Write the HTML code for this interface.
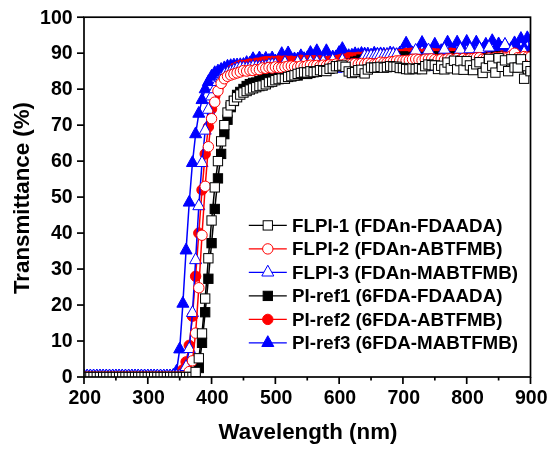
<!DOCTYPE html>
<html><head><meta charset="utf-8"><title>Transmittance</title>
<style>html,body{margin:0;padding:0;background:#fff;width:550px;height:452px;overflow:hidden}svg{display:block}</style>
</head><body>
<svg width="550" height="452" viewBox="0 0 550 452">
<defs><clipPath id="pc"><rect x="84.0" y="17.2" width="446.5" height="359.8"/></clipPath></defs>
<rect width="550" height="452" fill="#fff"/>
<g clip-path="url(#pc)">
<g><polyline points="84.00,376.28 87.19,376.28 90.38,376.28 93.57,376.28 96.76,376.28 99.95,376.28 103.14,376.28 106.33,376.28 109.51,376.28 112.70,376.28 115.89,376.28 119.08,376.28 122.27,376.28 125.46,376.28 128.65,376.28 131.84,376.28 135.03,376.28 138.22,376.28 141.41,376.28 144.60,376.28 147.79,376.28 150.97,376.28 154.16,376.28 157.35,376.28 160.54,376.28 163.73,376.28 166.92,376.28 170.11,376.28 173.30,375.56 176.49,371.60 179.68,349.30 182.87,303.60 186.06,250.35 189.25,202.50 192.44,162.92 195.62,134.13 198.81,113.63 202.00,99.95 205.19,89.16 208.38,81.96 211.57,76.57 214.76,72.97 217.95,71.35 221.14,69.73 224.33,68.11 227.52,66.49 230.71,65.92 233.90,65.35 237.09,65.23 240.28,65.00 243.46,64.73 246.65,62.84 249.84,63.38 253.03,58.94 256.22,61.83 259.41,58.22 262.60,61.18 265.79,58.58 268.98,60.66 272.17,58.22 275.36,61.23 278.55,60.42 281.74,53.90 284.93,60.13 288.11,53.18 291.30,59.58 294.49,59.16 297.68,59.34 300.87,56.06 304.06,58.89 307.25,58.07 310.44,52.82 313.63,59.43 316.82,51.02 320.01,58.58 323.20,58.94 326.39,51.02 329.57,58.26 332.76,57.24 335.95,57.15 339.14,52.82 342.33,48.86 345.52,55.70 348.71,55.93 351.90,55.48 355.09,54.05 358.28,54.98 361.47,53.74 364.66,54.32 367.85,54.33 371.04,55.35 374.23,53.47 377.41,54.47 380.60,54.12 383.79,54.41 386.98,54.70 390.17,53.18 393.36,53.82 396.55,54.97 399.74,53.29 402.93,53.55 406.12,43.47 409.31,52.12 412.50,53.15 415.69,51.85 418.88,52.35 422.06,42.75 425.25,51.47 428.44,51.87 431.63,51.09 434.82,44.54 438.01,52.73 441.20,50.90 444.39,51.29 447.58,42.39 450.77,50.94 453.96,50.83 457.15,42.39 460.34,50.47 463.52,51.52 466.71,41.67 469.90,51.28 473.09,51.05 476.28,42.39 479.47,48.80 482.66,49.45 485.85,44.54 489.04,48.71 492.23,40.95 495.42,49.83 498.61,44.19 501.80,48.25 504.99,44.90 508.18,50.22 511.36,48.48 514.55,43.11 517.74,48.38 520.93,38.79 524.12,48.17 527.31,38.07 530.50,48.74" fill="none" stroke="#0000ff" stroke-width="1.5"/><polygon points="84.00,369.08 78.00,379.88 90.00,379.88" fill="#0000ff" stroke="#0000ff" stroke-width="1.0"/><polygon points="87.19,369.08 81.19,379.88 93.19,379.88" fill="#0000ff" stroke="#0000ff" stroke-width="1.0"/><polygon points="90.38,369.08 84.38,379.88 96.38,379.88" fill="#0000ff" stroke="#0000ff" stroke-width="1.0"/><polygon points="93.57,369.08 87.57,379.88 99.57,379.88" fill="#0000ff" stroke="#0000ff" stroke-width="1.0"/><polygon points="96.76,369.08 90.76,379.88 102.76,379.88" fill="#0000ff" stroke="#0000ff" stroke-width="1.0"/><polygon points="99.95,369.08 93.95,379.88 105.95,379.88" fill="#0000ff" stroke="#0000ff" stroke-width="1.0"/><polygon points="103.14,369.08 97.14,379.88 109.14,379.88" fill="#0000ff" stroke="#0000ff" stroke-width="1.0"/><polygon points="106.33,369.08 100.33,379.88 112.33,379.88" fill="#0000ff" stroke="#0000ff" stroke-width="1.0"/><polygon points="109.51,369.08 103.51,379.88 115.51,379.88" fill="#0000ff" stroke="#0000ff" stroke-width="1.0"/><polygon points="112.70,369.08 106.70,379.88 118.70,379.88" fill="#0000ff" stroke="#0000ff" stroke-width="1.0"/><polygon points="115.89,369.08 109.89,379.88 121.89,379.88" fill="#0000ff" stroke="#0000ff" stroke-width="1.0"/><polygon points="119.08,369.08 113.08,379.88 125.08,379.88" fill="#0000ff" stroke="#0000ff" stroke-width="1.0"/><polygon points="122.27,369.08 116.27,379.88 128.27,379.88" fill="#0000ff" stroke="#0000ff" stroke-width="1.0"/><polygon points="125.46,369.08 119.46,379.88 131.46,379.88" fill="#0000ff" stroke="#0000ff" stroke-width="1.0"/><polygon points="128.65,369.08 122.65,379.88 134.65,379.88" fill="#0000ff" stroke="#0000ff" stroke-width="1.0"/><polygon points="131.84,369.08 125.84,379.88 137.84,379.88" fill="#0000ff" stroke="#0000ff" stroke-width="1.0"/><polygon points="135.03,369.08 129.03,379.88 141.03,379.88" fill="#0000ff" stroke="#0000ff" stroke-width="1.0"/><polygon points="138.22,369.08 132.22,379.88 144.22,379.88" fill="#0000ff" stroke="#0000ff" stroke-width="1.0"/><polygon points="141.41,369.08 135.41,379.88 147.41,379.88" fill="#0000ff" stroke="#0000ff" stroke-width="1.0"/><polygon points="144.60,369.08 138.60,379.88 150.60,379.88" fill="#0000ff" stroke="#0000ff" stroke-width="1.0"/><polygon points="147.79,369.08 141.79,379.88 153.79,379.88" fill="#0000ff" stroke="#0000ff" stroke-width="1.0"/><polygon points="150.97,369.08 144.97,379.88 156.97,379.88" fill="#0000ff" stroke="#0000ff" stroke-width="1.0"/><polygon points="154.16,369.08 148.16,379.88 160.16,379.88" fill="#0000ff" stroke="#0000ff" stroke-width="1.0"/><polygon points="157.35,369.08 151.35,379.88 163.35,379.88" fill="#0000ff" stroke="#0000ff" stroke-width="1.0"/><polygon points="160.54,369.08 154.54,379.88 166.54,379.88" fill="#0000ff" stroke="#0000ff" stroke-width="1.0"/><polygon points="163.73,369.08 157.73,379.88 169.73,379.88" fill="#0000ff" stroke="#0000ff" stroke-width="1.0"/><polygon points="166.92,369.08 160.92,379.88 172.92,379.88" fill="#0000ff" stroke="#0000ff" stroke-width="1.0"/><polygon points="170.11,369.08 164.11,379.88 176.11,379.88" fill="#0000ff" stroke="#0000ff" stroke-width="1.0"/><polygon points="173.30,368.36 167.30,379.16 179.30,379.16" fill="#0000ff" stroke="#0000ff" stroke-width="1.0"/><polygon points="176.49,364.40 170.49,375.20 182.49,375.20" fill="#0000ff" stroke="#0000ff" stroke-width="1.0"/><polygon points="179.68,342.10 173.68,352.90 185.68,352.90" fill="#0000ff" stroke="#0000ff" stroke-width="1.0"/><polygon points="182.87,296.40 176.87,307.20 188.87,307.20" fill="#0000ff" stroke="#0000ff" stroke-width="1.0"/><polygon points="186.06,243.15 180.06,253.95 192.06,253.95" fill="#0000ff" stroke="#0000ff" stroke-width="1.0"/><polygon points="189.25,195.30 183.25,206.10 195.25,206.10" fill="#0000ff" stroke="#0000ff" stroke-width="1.0"/><polygon points="192.44,155.72 186.44,166.52 198.44,166.52" fill="#0000ff" stroke="#0000ff" stroke-width="1.0"/><polygon points="195.62,126.93 189.62,137.73 201.62,137.73" fill="#0000ff" stroke="#0000ff" stroke-width="1.0"/><polygon points="198.81,106.43 192.81,117.23 204.81,117.23" fill="#0000ff" stroke="#0000ff" stroke-width="1.0"/><polygon points="202.00,92.75 196.00,103.55 208.00,103.55" fill="#0000ff" stroke="#0000ff" stroke-width="1.0"/><polygon points="205.19,81.96 199.19,92.76 211.19,92.76" fill="#0000ff" stroke="#0000ff" stroke-width="1.0"/><polygon points="208.38,74.76 202.38,85.56 214.38,85.56" fill="#0000ff" stroke="#0000ff" stroke-width="1.0"/><polygon points="211.57,69.37 205.57,80.17 217.57,80.17" fill="#0000ff" stroke="#0000ff" stroke-width="1.0"/><polygon points="214.76,65.77 208.76,76.57 220.76,76.57" fill="#0000ff" stroke="#0000ff" stroke-width="1.0"/><polygon points="217.95,64.15 211.95,74.95 223.95,74.95" fill="#0000ff" stroke="#0000ff" stroke-width="1.0"/><polygon points="221.14,62.53 215.14,73.33 227.14,73.33" fill="#0000ff" stroke="#0000ff" stroke-width="1.0"/><polygon points="224.33,60.91 218.33,71.71 230.33,71.71" fill="#0000ff" stroke="#0000ff" stroke-width="1.0"/><polygon points="227.52,59.29 221.52,70.09 233.52,70.09" fill="#0000ff" stroke="#0000ff" stroke-width="1.0"/><polygon points="230.71,58.72 224.71,69.52 236.71,69.52" fill="#0000ff" stroke="#0000ff" stroke-width="1.0"/><polygon points="233.90,58.15 227.90,68.95 239.90,68.95" fill="#0000ff" stroke="#0000ff" stroke-width="1.0"/><polygon points="237.09,58.03 231.09,68.83 243.09,68.83" fill="#0000ff" stroke="#0000ff" stroke-width="1.0"/><polygon points="240.28,57.80 234.28,68.60 246.28,68.60" fill="#0000ff" stroke="#0000ff" stroke-width="1.0"/><polygon points="243.46,57.53 237.46,68.33 249.46,68.33" fill="#0000ff" stroke="#0000ff" stroke-width="1.0"/><polygon points="246.65,55.64 240.65,66.44 252.65,66.44" fill="#0000ff" stroke="#0000ff" stroke-width="1.0"/><polygon points="249.84,56.18 243.84,66.98 255.84,66.98" fill="#0000ff" stroke="#0000ff" stroke-width="1.0"/><polygon points="253.03,51.74 247.03,62.54 259.03,62.54" fill="#0000ff" stroke="#0000ff" stroke-width="1.0"/><polygon points="256.22,54.63 250.22,65.43 262.22,65.43" fill="#0000ff" stroke="#0000ff" stroke-width="1.0"/><polygon points="259.41,51.02 253.41,61.82 265.41,61.82" fill="#0000ff" stroke="#0000ff" stroke-width="1.0"/><polygon points="262.60,53.98 256.60,64.78 268.60,64.78" fill="#0000ff" stroke="#0000ff" stroke-width="1.0"/><polygon points="265.79,51.38 259.79,62.18 271.79,62.18" fill="#0000ff" stroke="#0000ff" stroke-width="1.0"/><polygon points="268.98,53.46 262.98,64.26 274.98,64.26" fill="#0000ff" stroke="#0000ff" stroke-width="1.0"/><polygon points="272.17,51.02 266.17,61.82 278.17,61.82" fill="#0000ff" stroke="#0000ff" stroke-width="1.0"/><polygon points="275.36,54.03 269.36,64.83 281.36,64.83" fill="#0000ff" stroke="#0000ff" stroke-width="1.0"/><polygon points="278.55,53.22 272.55,64.02 284.55,64.02" fill="#0000ff" stroke="#0000ff" stroke-width="1.0"/><polygon points="281.74,46.70 275.74,57.50 287.74,57.50" fill="#0000ff" stroke="#0000ff" stroke-width="1.0"/><polygon points="284.93,52.93 278.93,63.73 290.93,63.73" fill="#0000ff" stroke="#0000ff" stroke-width="1.0"/><polygon points="288.11,45.98 282.11,56.78 294.11,56.78" fill="#0000ff" stroke="#0000ff" stroke-width="1.0"/><polygon points="291.30,52.38 285.30,63.18 297.30,63.18" fill="#0000ff" stroke="#0000ff" stroke-width="1.0"/><polygon points="294.49,51.96 288.49,62.76 300.49,62.76" fill="#0000ff" stroke="#0000ff" stroke-width="1.0"/><polygon points="297.68,52.14 291.68,62.94 303.68,62.94" fill="#0000ff" stroke="#0000ff" stroke-width="1.0"/><polygon points="300.87,48.86 294.87,59.66 306.87,59.66" fill="#0000ff" stroke="#0000ff" stroke-width="1.0"/><polygon points="304.06,51.69 298.06,62.49 310.06,62.49" fill="#0000ff" stroke="#0000ff" stroke-width="1.0"/><polygon points="307.25,50.87 301.25,61.67 313.25,61.67" fill="#0000ff" stroke="#0000ff" stroke-width="1.0"/><polygon points="310.44,45.62 304.44,56.42 316.44,56.42" fill="#0000ff" stroke="#0000ff" stroke-width="1.0"/><polygon points="313.63,52.23 307.63,63.03 319.63,63.03" fill="#0000ff" stroke="#0000ff" stroke-width="1.0"/><polygon points="316.82,43.82 310.82,54.62 322.82,54.62" fill="#0000ff" stroke="#0000ff" stroke-width="1.0"/><polygon points="320.01,51.38 314.01,62.18 326.01,62.18" fill="#0000ff" stroke="#0000ff" stroke-width="1.0"/><polygon points="323.20,51.74 317.20,62.54 329.20,62.54" fill="#0000ff" stroke="#0000ff" stroke-width="1.0"/><polygon points="326.39,43.82 320.39,54.62 332.39,54.62" fill="#0000ff" stroke="#0000ff" stroke-width="1.0"/><polygon points="329.57,51.06 323.57,61.86 335.57,61.86" fill="#0000ff" stroke="#0000ff" stroke-width="1.0"/><polygon points="332.76,50.04 326.76,60.84 338.76,60.84" fill="#0000ff" stroke="#0000ff" stroke-width="1.0"/><polygon points="335.95,49.95 329.95,60.75 341.95,60.75" fill="#0000ff" stroke="#0000ff" stroke-width="1.0"/><polygon points="339.14,45.62 333.14,56.42 345.14,56.42" fill="#0000ff" stroke="#0000ff" stroke-width="1.0"/><polygon points="342.33,41.66 336.33,52.46 348.33,52.46" fill="#0000ff" stroke="#0000ff" stroke-width="1.0"/><polygon points="345.52,48.50 339.52,59.30 351.52,59.30" fill="#0000ff" stroke="#0000ff" stroke-width="1.0"/><polygon points="348.71,48.73 342.71,59.53 354.71,59.53" fill="#0000ff" stroke="#0000ff" stroke-width="1.0"/><polygon points="351.90,48.28 345.90,59.08 357.90,59.08" fill="#0000ff" stroke="#0000ff" stroke-width="1.0"/><polygon points="355.09,46.85 349.09,57.65 361.09,57.65" fill="#0000ff" stroke="#0000ff" stroke-width="1.0"/><polygon points="358.28,47.78 352.28,58.58 364.28,58.58" fill="#0000ff" stroke="#0000ff" stroke-width="1.0"/><polygon points="361.47,46.54 355.47,57.34 367.47,57.34" fill="#0000ff" stroke="#0000ff" stroke-width="1.0"/><polygon points="364.66,47.12 358.66,57.92 370.66,57.92" fill="#0000ff" stroke="#0000ff" stroke-width="1.0"/><polygon points="367.85,47.13 361.85,57.93 373.85,57.93" fill="#0000ff" stroke="#0000ff" stroke-width="1.0"/><polygon points="371.04,48.15 365.04,58.95 377.04,58.95" fill="#0000ff" stroke="#0000ff" stroke-width="1.0"/><polygon points="374.23,46.27 368.23,57.07 380.23,57.07" fill="#0000ff" stroke="#0000ff" stroke-width="1.0"/><polygon points="377.41,47.27 371.41,58.07 383.41,58.07" fill="#0000ff" stroke="#0000ff" stroke-width="1.0"/><polygon points="380.60,46.92 374.60,57.72 386.60,57.72" fill="#0000ff" stroke="#0000ff" stroke-width="1.0"/><polygon points="383.79,47.21 377.79,58.01 389.79,58.01" fill="#0000ff" stroke="#0000ff" stroke-width="1.0"/><polygon points="386.98,47.50 380.98,58.30 392.98,58.30" fill="#0000ff" stroke="#0000ff" stroke-width="1.0"/><polygon points="390.17,45.98 384.17,56.78 396.17,56.78" fill="#0000ff" stroke="#0000ff" stroke-width="1.0"/><polygon points="393.36,46.62 387.36,57.42 399.36,57.42" fill="#0000ff" stroke="#0000ff" stroke-width="1.0"/><polygon points="396.55,47.77 390.55,58.57 402.55,58.57" fill="#0000ff" stroke="#0000ff" stroke-width="1.0"/><polygon points="399.74,46.09 393.74,56.89 405.74,56.89" fill="#0000ff" stroke="#0000ff" stroke-width="1.0"/><polygon points="402.93,46.35 396.93,57.15 408.93,57.15" fill="#0000ff" stroke="#0000ff" stroke-width="1.0"/><polygon points="406.12,36.27 400.12,47.07 412.12,47.07" fill="#0000ff" stroke="#0000ff" stroke-width="1.0"/><polygon points="409.31,44.92 403.31,55.72 415.31,55.72" fill="#0000ff" stroke="#0000ff" stroke-width="1.0"/><polygon points="412.50,45.95 406.50,56.75 418.50,56.75" fill="#0000ff" stroke="#0000ff" stroke-width="1.0"/><polygon points="415.69,44.65 409.69,55.45 421.69,55.45" fill="#0000ff" stroke="#0000ff" stroke-width="1.0"/><polygon points="418.88,45.15 412.88,55.95 424.88,55.95" fill="#0000ff" stroke="#0000ff" stroke-width="1.0"/><polygon points="422.06,35.55 416.06,46.35 428.06,46.35" fill="#0000ff" stroke="#0000ff" stroke-width="1.0"/><polygon points="425.25,44.27 419.25,55.07 431.25,55.07" fill="#0000ff" stroke="#0000ff" stroke-width="1.0"/><polygon points="428.44,44.67 422.44,55.47 434.44,55.47" fill="#0000ff" stroke="#0000ff" stroke-width="1.0"/><polygon points="431.63,43.89 425.63,54.69 437.63,54.69" fill="#0000ff" stroke="#0000ff" stroke-width="1.0"/><polygon points="434.82,37.34 428.82,48.14 440.82,48.14" fill="#0000ff" stroke="#0000ff" stroke-width="1.0"/><polygon points="438.01,45.53 432.01,56.33 444.01,56.33" fill="#0000ff" stroke="#0000ff" stroke-width="1.0"/><polygon points="441.20,43.70 435.20,54.50 447.20,54.50" fill="#0000ff" stroke="#0000ff" stroke-width="1.0"/><polygon points="444.39,44.09 438.39,54.89 450.39,54.89" fill="#0000ff" stroke="#0000ff" stroke-width="1.0"/><polygon points="447.58,35.19 441.58,45.99 453.58,45.99" fill="#0000ff" stroke="#0000ff" stroke-width="1.0"/><polygon points="450.77,43.74 444.77,54.54 456.77,54.54" fill="#0000ff" stroke="#0000ff" stroke-width="1.0"/><polygon points="453.96,43.63 447.96,54.43 459.96,54.43" fill="#0000ff" stroke="#0000ff" stroke-width="1.0"/><polygon points="457.15,35.19 451.15,45.99 463.15,45.99" fill="#0000ff" stroke="#0000ff" stroke-width="1.0"/><polygon points="460.34,43.27 454.34,54.07 466.34,54.07" fill="#0000ff" stroke="#0000ff" stroke-width="1.0"/><polygon points="463.52,44.32 457.52,55.12 469.52,55.12" fill="#0000ff" stroke="#0000ff" stroke-width="1.0"/><polygon points="466.71,34.47 460.71,45.27 472.71,45.27" fill="#0000ff" stroke="#0000ff" stroke-width="1.0"/><polygon points="469.90,44.08 463.90,54.88 475.90,54.88" fill="#0000ff" stroke="#0000ff" stroke-width="1.0"/><polygon points="473.09,43.85 467.09,54.65 479.09,54.65" fill="#0000ff" stroke="#0000ff" stroke-width="1.0"/><polygon points="476.28,35.19 470.28,45.99 482.28,45.99" fill="#0000ff" stroke="#0000ff" stroke-width="1.0"/><polygon points="479.47,41.60 473.47,52.40 485.47,52.40" fill="#0000ff" stroke="#0000ff" stroke-width="1.0"/><polygon points="482.66,42.25 476.66,53.05 488.66,53.05" fill="#0000ff" stroke="#0000ff" stroke-width="1.0"/><polygon points="485.85,37.34 479.85,48.14 491.85,48.14" fill="#0000ff" stroke="#0000ff" stroke-width="1.0"/><polygon points="489.04,41.51 483.04,52.31 495.04,52.31" fill="#0000ff" stroke="#0000ff" stroke-width="1.0"/><polygon points="492.23,33.75 486.23,44.55 498.23,44.55" fill="#0000ff" stroke="#0000ff" stroke-width="1.0"/><polygon points="495.42,42.63 489.42,53.43 501.42,53.43" fill="#0000ff" stroke="#0000ff" stroke-width="1.0"/><polygon points="498.61,36.98 492.61,47.79 504.61,47.79" fill="#0000ff" stroke="#0000ff" stroke-width="1.0"/><polygon points="501.80,41.05 495.80,51.85 507.80,51.85" fill="#0000ff" stroke="#0000ff" stroke-width="1.0"/><polygon points="504.99,37.70 498.99,48.50 510.99,48.50" fill="#0000ff" stroke="#0000ff" stroke-width="1.0"/><polygon points="508.18,43.02 502.18,53.82 514.17,53.82" fill="#0000ff" stroke="#0000ff" stroke-width="1.0"/><polygon points="511.36,41.28 505.36,52.08 517.36,52.08" fill="#0000ff" stroke="#0000ff" stroke-width="1.0"/><polygon points="514.55,35.91 508.55,46.71 520.55,46.71" fill="#0000ff" stroke="#0000ff" stroke-width="1.0"/><polygon points="517.74,41.18 511.74,51.98 523.74,51.98" fill="#0000ff" stroke="#0000ff" stroke-width="1.0"/><polygon points="520.93,31.59 514.93,42.39 526.93,42.39" fill="#0000ff" stroke="#0000ff" stroke-width="1.0"/><polygon points="524.12,40.97 518.12,51.77 530.12,51.77" fill="#0000ff" stroke="#0000ff" stroke-width="1.0"/><polygon points="527.31,30.87 521.31,41.67 533.31,41.67" fill="#0000ff" stroke="#0000ff" stroke-width="1.0"/><polygon points="530.50,41.54 524.50,52.34 536.50,52.34" fill="#0000ff" stroke="#0000ff" stroke-width="1.0"/></g>
<g><polyline points="84.00,377.00 87.19,377.00 90.38,377.00 93.57,377.00 96.76,377.00 99.95,377.00 103.14,377.00 106.33,377.00 109.51,377.00 112.70,377.00 115.89,377.00 119.08,377.00 122.27,377.00 125.46,377.00 128.65,377.00 131.84,377.00 135.03,377.00 138.22,377.00 141.41,377.00 144.60,377.00 147.79,377.00 150.97,377.00 154.16,377.00 157.35,377.00 160.54,377.00 163.73,377.00 166.92,377.00 170.11,377.00 173.30,377.00 176.49,377.00 179.68,375.56 182.87,369.80 186.06,361.89 189.25,345.34 192.44,316.19 195.62,276.26 198.81,233.08 202.00,189.90 205.19,153.92 208.38,126.94 211.57,108.95 214.76,96.36 217.95,88.08 221.14,83.22 224.33,78.37 227.52,74.62 230.71,70.87 233.90,68.46 237.09,66.94 240.28,65.41 243.46,65.49 246.65,65.05 249.84,64.04 253.03,64.36 256.22,63.26 259.41,63.10 262.60,62.10 265.79,61.69 268.98,61.58 272.17,61.38 275.36,61.74 278.55,61.00 281.74,61.38 284.93,60.96 288.11,61.41 291.30,61.19 294.49,61.88 297.68,61.56 300.87,60.25 304.06,61.58 307.25,60.75 310.44,60.82 313.63,60.69 316.82,61.14 320.01,60.92 323.20,61.87 326.39,61.86 329.57,61.19 332.76,60.82 335.95,60.47 339.14,59.96 342.33,58.93 345.52,59.32 348.71,57.67 351.90,57.89 355.09,57.87 358.28,57.30 361.47,57.83 364.66,56.37 367.85,56.26 371.04,56.19 374.23,56.36 377.41,55.44 380.60,55.35 383.79,55.23 386.98,54.50 390.17,54.74 393.36,54.95 396.55,54.34 399.74,54.72 402.93,54.45 406.12,53.49 409.31,53.39 412.50,53.05 415.69,53.27 418.88,53.82 422.06,54.64 425.25,53.92 428.44,53.13 431.63,53.38 434.82,53.93 438.01,53.98 441.20,54.41 444.39,54.48 447.58,54.67 450.77,53.19 453.96,53.65 457.15,54.54 460.34,54.05 463.52,54.71 466.71,54.42 469.90,53.96 473.09,54.59 476.28,55.38 479.47,56.22 482.66,56.02 485.85,55.96 489.04,56.89 492.23,57.55 495.42,57.57 498.61,57.53 501.80,55.95 504.99,56.70 508.18,56.17 511.36,57.37 514.55,57.21 517.74,56.43 520.93,56.07 524.12,57.06 527.31,57.56 530.50,56.12" fill="none" stroke="#ff0000" stroke-width="1.5"/><circle cx="84.00" cy="377.00" r="5.2" fill="#ff0000" stroke="#ff0000" stroke-width="1.0"/><circle cx="87.19" cy="377.00" r="5.2" fill="#ff0000" stroke="#ff0000" stroke-width="1.0"/><circle cx="90.38" cy="377.00" r="5.2" fill="#ff0000" stroke="#ff0000" stroke-width="1.0"/><circle cx="93.57" cy="377.00" r="5.2" fill="#ff0000" stroke="#ff0000" stroke-width="1.0"/><circle cx="96.76" cy="377.00" r="5.2" fill="#ff0000" stroke="#ff0000" stroke-width="1.0"/><circle cx="99.95" cy="377.00" r="5.2" fill="#ff0000" stroke="#ff0000" stroke-width="1.0"/><circle cx="103.14" cy="377.00" r="5.2" fill="#ff0000" stroke="#ff0000" stroke-width="1.0"/><circle cx="106.33" cy="377.00" r="5.2" fill="#ff0000" stroke="#ff0000" stroke-width="1.0"/><circle cx="109.51" cy="377.00" r="5.2" fill="#ff0000" stroke="#ff0000" stroke-width="1.0"/><circle cx="112.70" cy="377.00" r="5.2" fill="#ff0000" stroke="#ff0000" stroke-width="1.0"/><circle cx="115.89" cy="377.00" r="5.2" fill="#ff0000" stroke="#ff0000" stroke-width="1.0"/><circle cx="119.08" cy="377.00" r="5.2" fill="#ff0000" stroke="#ff0000" stroke-width="1.0"/><circle cx="122.27" cy="377.00" r="5.2" fill="#ff0000" stroke="#ff0000" stroke-width="1.0"/><circle cx="125.46" cy="377.00" r="5.2" fill="#ff0000" stroke="#ff0000" stroke-width="1.0"/><circle cx="128.65" cy="377.00" r="5.2" fill="#ff0000" stroke="#ff0000" stroke-width="1.0"/><circle cx="131.84" cy="377.00" r="5.2" fill="#ff0000" stroke="#ff0000" stroke-width="1.0"/><circle cx="135.03" cy="377.00" r="5.2" fill="#ff0000" stroke="#ff0000" stroke-width="1.0"/><circle cx="138.22" cy="377.00" r="5.2" fill="#ff0000" stroke="#ff0000" stroke-width="1.0"/><circle cx="141.41" cy="377.00" r="5.2" fill="#ff0000" stroke="#ff0000" stroke-width="1.0"/><circle cx="144.60" cy="377.00" r="5.2" fill="#ff0000" stroke="#ff0000" stroke-width="1.0"/><circle cx="147.79" cy="377.00" r="5.2" fill="#ff0000" stroke="#ff0000" stroke-width="1.0"/><circle cx="150.97" cy="377.00" r="5.2" fill="#ff0000" stroke="#ff0000" stroke-width="1.0"/><circle cx="154.16" cy="377.00" r="5.2" fill="#ff0000" stroke="#ff0000" stroke-width="1.0"/><circle cx="157.35" cy="377.00" r="5.2" fill="#ff0000" stroke="#ff0000" stroke-width="1.0"/><circle cx="160.54" cy="377.00" r="5.2" fill="#ff0000" stroke="#ff0000" stroke-width="1.0"/><circle cx="163.73" cy="377.00" r="5.2" fill="#ff0000" stroke="#ff0000" stroke-width="1.0"/><circle cx="166.92" cy="377.00" r="5.2" fill="#ff0000" stroke="#ff0000" stroke-width="1.0"/><circle cx="170.11" cy="377.00" r="5.2" fill="#ff0000" stroke="#ff0000" stroke-width="1.0"/><circle cx="173.30" cy="377.00" r="5.2" fill="#ff0000" stroke="#ff0000" stroke-width="1.0"/><circle cx="176.49" cy="377.00" r="5.2" fill="#ff0000" stroke="#ff0000" stroke-width="1.0"/><circle cx="179.68" cy="375.56" r="5.2" fill="#ff0000" stroke="#ff0000" stroke-width="1.0"/><circle cx="182.87" cy="369.80" r="5.2" fill="#ff0000" stroke="#ff0000" stroke-width="1.0"/><circle cx="186.06" cy="361.89" r="5.2" fill="#ff0000" stroke="#ff0000" stroke-width="1.0"/><circle cx="189.25" cy="345.34" r="5.2" fill="#ff0000" stroke="#ff0000" stroke-width="1.0"/><circle cx="192.44" cy="316.19" r="5.2" fill="#ff0000" stroke="#ff0000" stroke-width="1.0"/><circle cx="195.62" cy="276.26" r="5.2" fill="#ff0000" stroke="#ff0000" stroke-width="1.0"/><circle cx="198.81" cy="233.08" r="5.2" fill="#ff0000" stroke="#ff0000" stroke-width="1.0"/><circle cx="202.00" cy="189.90" r="5.2" fill="#ff0000" stroke="#ff0000" stroke-width="1.0"/><circle cx="205.19" cy="153.92" r="5.2" fill="#ff0000" stroke="#ff0000" stroke-width="1.0"/><circle cx="208.38" cy="126.94" r="5.2" fill="#ff0000" stroke="#ff0000" stroke-width="1.0"/><circle cx="211.57" cy="108.95" r="5.2" fill="#ff0000" stroke="#ff0000" stroke-width="1.0"/><circle cx="214.76" cy="96.36" r="5.2" fill="#ff0000" stroke="#ff0000" stroke-width="1.0"/><circle cx="217.95" cy="88.08" r="5.2" fill="#ff0000" stroke="#ff0000" stroke-width="1.0"/><circle cx="221.14" cy="83.22" r="5.2" fill="#ff0000" stroke="#ff0000" stroke-width="1.0"/><circle cx="224.33" cy="78.37" r="5.2" fill="#ff0000" stroke="#ff0000" stroke-width="1.0"/><circle cx="227.52" cy="74.62" r="5.2" fill="#ff0000" stroke="#ff0000" stroke-width="1.0"/><circle cx="230.71" cy="70.87" r="5.2" fill="#ff0000" stroke="#ff0000" stroke-width="1.0"/><circle cx="233.90" cy="68.46" r="5.2" fill="#ff0000" stroke="#ff0000" stroke-width="1.0"/><circle cx="237.09" cy="66.94" r="5.2" fill="#ff0000" stroke="#ff0000" stroke-width="1.0"/><circle cx="240.28" cy="65.41" r="5.2" fill="#ff0000" stroke="#ff0000" stroke-width="1.0"/><circle cx="243.46" cy="65.49" r="5.2" fill="#ff0000" stroke="#ff0000" stroke-width="1.0"/><circle cx="246.65" cy="65.05" r="5.2" fill="#ff0000" stroke="#ff0000" stroke-width="1.0"/><circle cx="249.84" cy="64.04" r="5.2" fill="#ff0000" stroke="#ff0000" stroke-width="1.0"/><circle cx="253.03" cy="64.36" r="5.2" fill="#ff0000" stroke="#ff0000" stroke-width="1.0"/><circle cx="256.22" cy="63.26" r="5.2" fill="#ff0000" stroke="#ff0000" stroke-width="1.0"/><circle cx="259.41" cy="63.10" r="5.2" fill="#ff0000" stroke="#ff0000" stroke-width="1.0"/><circle cx="262.60" cy="62.10" r="5.2" fill="#ff0000" stroke="#ff0000" stroke-width="1.0"/><circle cx="265.79" cy="61.69" r="5.2" fill="#ff0000" stroke="#ff0000" stroke-width="1.0"/><circle cx="268.98" cy="61.58" r="5.2" fill="#ff0000" stroke="#ff0000" stroke-width="1.0"/><circle cx="272.17" cy="61.38" r="5.2" fill="#ff0000" stroke="#ff0000" stroke-width="1.0"/><circle cx="275.36" cy="61.74" r="5.2" fill="#ff0000" stroke="#ff0000" stroke-width="1.0"/><circle cx="278.55" cy="61.00" r="5.2" fill="#ff0000" stroke="#ff0000" stroke-width="1.0"/><circle cx="281.74" cy="61.38" r="5.2" fill="#ff0000" stroke="#ff0000" stroke-width="1.0"/><circle cx="284.93" cy="60.96" r="5.2" fill="#ff0000" stroke="#ff0000" stroke-width="1.0"/><circle cx="288.11" cy="61.41" r="5.2" fill="#ff0000" stroke="#ff0000" stroke-width="1.0"/><circle cx="291.30" cy="61.19" r="5.2" fill="#ff0000" stroke="#ff0000" stroke-width="1.0"/><circle cx="294.49" cy="61.88" r="5.2" fill="#ff0000" stroke="#ff0000" stroke-width="1.0"/><circle cx="297.68" cy="61.56" r="5.2" fill="#ff0000" stroke="#ff0000" stroke-width="1.0"/><circle cx="300.87" cy="60.25" r="5.2" fill="#ff0000" stroke="#ff0000" stroke-width="1.0"/><circle cx="304.06" cy="61.58" r="5.2" fill="#ff0000" stroke="#ff0000" stroke-width="1.0"/><circle cx="307.25" cy="60.75" r="5.2" fill="#ff0000" stroke="#ff0000" stroke-width="1.0"/><circle cx="310.44" cy="60.82" r="5.2" fill="#ff0000" stroke="#ff0000" stroke-width="1.0"/><circle cx="313.63" cy="60.69" r="5.2" fill="#ff0000" stroke="#ff0000" stroke-width="1.0"/><circle cx="316.82" cy="61.14" r="5.2" fill="#ff0000" stroke="#ff0000" stroke-width="1.0"/><circle cx="320.01" cy="60.92" r="5.2" fill="#ff0000" stroke="#ff0000" stroke-width="1.0"/><circle cx="323.20" cy="61.87" r="5.2" fill="#ff0000" stroke="#ff0000" stroke-width="1.0"/><circle cx="326.39" cy="61.86" r="5.2" fill="#ff0000" stroke="#ff0000" stroke-width="1.0"/><circle cx="329.57" cy="61.19" r="5.2" fill="#ff0000" stroke="#ff0000" stroke-width="1.0"/><circle cx="332.76" cy="60.82" r="5.2" fill="#ff0000" stroke="#ff0000" stroke-width="1.0"/><circle cx="335.95" cy="60.47" r="5.2" fill="#ff0000" stroke="#ff0000" stroke-width="1.0"/><circle cx="339.14" cy="59.96" r="5.2" fill="#ff0000" stroke="#ff0000" stroke-width="1.0"/><circle cx="342.33" cy="58.93" r="5.2" fill="#ff0000" stroke="#ff0000" stroke-width="1.0"/><circle cx="345.52" cy="59.32" r="5.2" fill="#ff0000" stroke="#ff0000" stroke-width="1.0"/><circle cx="348.71" cy="57.67" r="5.2" fill="#ff0000" stroke="#ff0000" stroke-width="1.0"/><circle cx="351.90" cy="57.89" r="5.2" fill="#ff0000" stroke="#ff0000" stroke-width="1.0"/><circle cx="355.09" cy="57.87" r="5.2" fill="#ff0000" stroke="#ff0000" stroke-width="1.0"/><circle cx="358.28" cy="57.30" r="5.2" fill="#ff0000" stroke="#ff0000" stroke-width="1.0"/><circle cx="361.47" cy="57.83" r="5.2" fill="#ff0000" stroke="#ff0000" stroke-width="1.0"/><circle cx="364.66" cy="56.37" r="5.2" fill="#ff0000" stroke="#ff0000" stroke-width="1.0"/><circle cx="367.85" cy="56.26" r="5.2" fill="#ff0000" stroke="#ff0000" stroke-width="1.0"/><circle cx="371.04" cy="56.19" r="5.2" fill="#ff0000" stroke="#ff0000" stroke-width="1.0"/><circle cx="374.23" cy="56.36" r="5.2" fill="#ff0000" stroke="#ff0000" stroke-width="1.0"/><circle cx="377.41" cy="55.44" r="5.2" fill="#ff0000" stroke="#ff0000" stroke-width="1.0"/><circle cx="380.60" cy="55.35" r="5.2" fill="#ff0000" stroke="#ff0000" stroke-width="1.0"/><circle cx="383.79" cy="55.23" r="5.2" fill="#ff0000" stroke="#ff0000" stroke-width="1.0"/><circle cx="386.98" cy="54.50" r="5.2" fill="#ff0000" stroke="#ff0000" stroke-width="1.0"/><circle cx="390.17" cy="54.74" r="5.2" fill="#ff0000" stroke="#ff0000" stroke-width="1.0"/><circle cx="393.36" cy="54.95" r="5.2" fill="#ff0000" stroke="#ff0000" stroke-width="1.0"/><circle cx="396.55" cy="54.34" r="5.2" fill="#ff0000" stroke="#ff0000" stroke-width="1.0"/><circle cx="399.74" cy="54.72" r="5.2" fill="#ff0000" stroke="#ff0000" stroke-width="1.0"/><circle cx="402.93" cy="54.45" r="5.2" fill="#ff0000" stroke="#ff0000" stroke-width="1.0"/><circle cx="406.12" cy="53.49" r="5.2" fill="#ff0000" stroke="#ff0000" stroke-width="1.0"/><circle cx="409.31" cy="53.39" r="5.2" fill="#ff0000" stroke="#ff0000" stroke-width="1.0"/><circle cx="412.50" cy="53.05" r="5.2" fill="#ff0000" stroke="#ff0000" stroke-width="1.0"/><circle cx="415.69" cy="53.27" r="5.2" fill="#ff0000" stroke="#ff0000" stroke-width="1.0"/><circle cx="418.88" cy="53.82" r="5.2" fill="#ff0000" stroke="#ff0000" stroke-width="1.0"/><circle cx="422.06" cy="54.64" r="5.2" fill="#ff0000" stroke="#ff0000" stroke-width="1.0"/><circle cx="425.25" cy="53.92" r="5.2" fill="#ff0000" stroke="#ff0000" stroke-width="1.0"/><circle cx="428.44" cy="53.13" r="5.2" fill="#ff0000" stroke="#ff0000" stroke-width="1.0"/><circle cx="431.63" cy="53.38" r="5.2" fill="#ff0000" stroke="#ff0000" stroke-width="1.0"/><circle cx="434.82" cy="53.93" r="5.2" fill="#ff0000" stroke="#ff0000" stroke-width="1.0"/><circle cx="438.01" cy="53.98" r="5.2" fill="#ff0000" stroke="#ff0000" stroke-width="1.0"/><circle cx="441.20" cy="54.41" r="5.2" fill="#ff0000" stroke="#ff0000" stroke-width="1.0"/><circle cx="444.39" cy="54.48" r="5.2" fill="#ff0000" stroke="#ff0000" stroke-width="1.0"/><circle cx="447.58" cy="54.67" r="5.2" fill="#ff0000" stroke="#ff0000" stroke-width="1.0"/><circle cx="450.77" cy="53.19" r="5.2" fill="#ff0000" stroke="#ff0000" stroke-width="1.0"/><circle cx="453.96" cy="53.65" r="5.2" fill="#ff0000" stroke="#ff0000" stroke-width="1.0"/><circle cx="457.15" cy="54.54" r="5.2" fill="#ff0000" stroke="#ff0000" stroke-width="1.0"/><circle cx="460.34" cy="54.05" r="5.2" fill="#ff0000" stroke="#ff0000" stroke-width="1.0"/><circle cx="463.52" cy="54.71" r="5.2" fill="#ff0000" stroke="#ff0000" stroke-width="1.0"/><circle cx="466.71" cy="54.42" r="5.2" fill="#ff0000" stroke="#ff0000" stroke-width="1.0"/><circle cx="469.90" cy="53.96" r="5.2" fill="#ff0000" stroke="#ff0000" stroke-width="1.0"/><circle cx="473.09" cy="54.59" r="5.2" fill="#ff0000" stroke="#ff0000" stroke-width="1.0"/><circle cx="476.28" cy="55.38" r="5.2" fill="#ff0000" stroke="#ff0000" stroke-width="1.0"/><circle cx="479.47" cy="56.22" r="5.2" fill="#ff0000" stroke="#ff0000" stroke-width="1.0"/><circle cx="482.66" cy="56.02" r="5.2" fill="#ff0000" stroke="#ff0000" stroke-width="1.0"/><circle cx="485.85" cy="55.96" r="5.2" fill="#ff0000" stroke="#ff0000" stroke-width="1.0"/><circle cx="489.04" cy="56.89" r="5.2" fill="#ff0000" stroke="#ff0000" stroke-width="1.0"/><circle cx="492.23" cy="57.55" r="5.2" fill="#ff0000" stroke="#ff0000" stroke-width="1.0"/><circle cx="495.42" cy="57.57" r="5.2" fill="#ff0000" stroke="#ff0000" stroke-width="1.0"/><circle cx="498.61" cy="57.53" r="5.2" fill="#ff0000" stroke="#ff0000" stroke-width="1.0"/><circle cx="501.80" cy="55.95" r="5.2" fill="#ff0000" stroke="#ff0000" stroke-width="1.0"/><circle cx="504.99" cy="56.70" r="5.2" fill="#ff0000" stroke="#ff0000" stroke-width="1.0"/><circle cx="508.18" cy="56.17" r="5.2" fill="#ff0000" stroke="#ff0000" stroke-width="1.0"/><circle cx="511.36" cy="57.37" r="5.2" fill="#ff0000" stroke="#ff0000" stroke-width="1.0"/><circle cx="514.55" cy="57.21" r="5.2" fill="#ff0000" stroke="#ff0000" stroke-width="1.0"/><circle cx="517.74" cy="56.43" r="5.2" fill="#ff0000" stroke="#ff0000" stroke-width="1.0"/><circle cx="520.93" cy="56.07" r="5.2" fill="#ff0000" stroke="#ff0000" stroke-width="1.0"/><circle cx="524.12" cy="57.06" r="5.2" fill="#ff0000" stroke="#ff0000" stroke-width="1.0"/><circle cx="527.31" cy="57.56" r="5.2" fill="#ff0000" stroke="#ff0000" stroke-width="1.0"/><circle cx="530.50" cy="56.12" r="5.2" fill="#ff0000" stroke="#ff0000" stroke-width="1.0"/></g>
<g><polyline points="84.00,376.64 87.19,376.64 90.38,376.64 93.57,376.64 96.76,376.64 99.95,376.64 103.14,376.64 106.33,376.64 109.51,376.64 112.70,376.64 115.89,376.64 119.08,376.64 122.27,376.64 125.46,376.64 128.65,376.64 131.84,376.64 135.03,376.64 138.22,376.64 141.41,376.64 144.60,376.64 147.79,376.64 150.97,376.64 154.16,376.64 157.35,376.64 160.54,376.64 163.73,376.64 166.92,376.64 170.11,376.64 173.30,376.64 176.49,376.64 179.68,376.64 182.87,376.64 186.06,376.64 189.25,376.64 192.44,376.64 195.62,376.64 198.81,368.00 202.00,342.82 205.19,312.24 208.38,278.77 211.57,243.15 214.76,208.97 217.95,178.39 221.14,153.92 224.33,134.13 227.52,119.74 230.71,107.15 233.90,101.03 237.09,94.92 240.28,91.95 243.46,88.99 246.65,86.03 249.84,84.12 253.03,82.92 256.22,82.56 259.41,81.06 262.60,78.32 265.79,78.03 268.98,77.35 272.17,77.61 275.36,77.19 278.55,76.53 281.74,76.01 284.93,75.54 288.11,75.24 291.30,76.32 294.49,75.25 297.68,75.46 300.87,73.86 304.06,72.82 307.25,73.94 310.44,72.92 313.63,71.82 316.82,71.36 320.01,69.45 323.20,69.69 326.39,68.35 329.57,67.95 332.76,67.03 335.95,65.54 339.14,64.82 342.33,65.75 345.52,63.30 348.71,63.51 351.90,63.18 355.09,61.71 358.28,61.00 361.47,59.60 364.66,60.44 367.85,60.78 371.04,58.52 374.23,59.96 377.41,58.98 380.60,58.00 383.79,58.55 386.98,58.51 390.17,57.57 393.36,59.07 396.55,57.70 399.74,57.87 402.93,56.45 406.12,56.83 409.31,58.42 412.50,58.11 415.69,57.53 418.88,56.97 422.06,57.75 425.25,57.67 428.44,56.44 431.63,56.36 434.82,57.52 438.01,56.44 441.20,57.65 444.39,58.16 447.58,57.19 450.77,56.88 453.96,56.36 457.15,56.19 460.34,56.59 463.52,56.60 466.71,56.68 469.90,56.68 473.09,56.52 476.28,56.06 479.47,57.34 482.66,57.95 485.85,57.59 489.04,57.61 492.23,57.29 495.42,56.31 498.61,57.91 501.80,57.05 504.99,56.25 508.18,57.41 511.36,57.83 514.55,57.42 517.74,57.75 520.93,56.17 524.12,57.53 527.31,57.45 530.50,56.10" fill="none" stroke="#000000" stroke-width="1.5"/><rect x="79.35" y="371.99" width="9.3" height="9.3" fill="#000000" stroke="#000000" stroke-width="1.0"/><rect x="82.54" y="371.99" width="9.3" height="9.3" fill="#000000" stroke="#000000" stroke-width="1.0"/><rect x="85.73" y="371.99" width="9.3" height="9.3" fill="#000000" stroke="#000000" stroke-width="1.0"/><rect x="88.92" y="371.99" width="9.3" height="9.3" fill="#000000" stroke="#000000" stroke-width="1.0"/><rect x="92.11" y="371.99" width="9.3" height="9.3" fill="#000000" stroke="#000000" stroke-width="1.0"/><rect x="95.30" y="371.99" width="9.3" height="9.3" fill="#000000" stroke="#000000" stroke-width="1.0"/><rect x="98.49" y="371.99" width="9.3" height="9.3" fill="#000000" stroke="#000000" stroke-width="1.0"/><rect x="101.67" y="371.99" width="9.3" height="9.3" fill="#000000" stroke="#000000" stroke-width="1.0"/><rect x="104.86" y="371.99" width="9.3" height="9.3" fill="#000000" stroke="#000000" stroke-width="1.0"/><rect x="108.05" y="371.99" width="9.3" height="9.3" fill="#000000" stroke="#000000" stroke-width="1.0"/><rect x="111.24" y="371.99" width="9.3" height="9.3" fill="#000000" stroke="#000000" stroke-width="1.0"/><rect x="114.43" y="371.99" width="9.3" height="9.3" fill="#000000" stroke="#000000" stroke-width="1.0"/><rect x="117.62" y="371.99" width="9.3" height="9.3" fill="#000000" stroke="#000000" stroke-width="1.0"/><rect x="120.81" y="371.99" width="9.3" height="9.3" fill="#000000" stroke="#000000" stroke-width="1.0"/><rect x="124.00" y="371.99" width="9.3" height="9.3" fill="#000000" stroke="#000000" stroke-width="1.0"/><rect x="127.19" y="371.99" width="9.3" height="9.3" fill="#000000" stroke="#000000" stroke-width="1.0"/><rect x="130.38" y="371.99" width="9.3" height="9.3" fill="#000000" stroke="#000000" stroke-width="1.0"/><rect x="133.57" y="371.99" width="9.3" height="9.3" fill="#000000" stroke="#000000" stroke-width="1.0"/><rect x="136.76" y="371.99" width="9.3" height="9.3" fill="#000000" stroke="#000000" stroke-width="1.0"/><rect x="139.95" y="371.99" width="9.3" height="9.3" fill="#000000" stroke="#000000" stroke-width="1.0"/><rect x="143.14" y="371.99" width="9.3" height="9.3" fill="#000000" stroke="#000000" stroke-width="1.0"/><rect x="146.32" y="371.99" width="9.3" height="9.3" fill="#000000" stroke="#000000" stroke-width="1.0"/><rect x="149.51" y="371.99" width="9.3" height="9.3" fill="#000000" stroke="#000000" stroke-width="1.0"/><rect x="152.70" y="371.99" width="9.3" height="9.3" fill="#000000" stroke="#000000" stroke-width="1.0"/><rect x="155.89" y="371.99" width="9.3" height="9.3" fill="#000000" stroke="#000000" stroke-width="1.0"/><rect x="159.08" y="371.99" width="9.3" height="9.3" fill="#000000" stroke="#000000" stroke-width="1.0"/><rect x="162.27" y="371.99" width="9.3" height="9.3" fill="#000000" stroke="#000000" stroke-width="1.0"/><rect x="165.46" y="371.99" width="9.3" height="9.3" fill="#000000" stroke="#000000" stroke-width="1.0"/><rect x="168.65" y="371.99" width="9.3" height="9.3" fill="#000000" stroke="#000000" stroke-width="1.0"/><rect x="171.84" y="371.99" width="9.3" height="9.3" fill="#000000" stroke="#000000" stroke-width="1.0"/><rect x="175.03" y="371.99" width="9.3" height="9.3" fill="#000000" stroke="#000000" stroke-width="1.0"/><rect x="178.22" y="371.99" width="9.3" height="9.3" fill="#000000" stroke="#000000" stroke-width="1.0"/><rect x="181.41" y="371.99" width="9.3" height="9.3" fill="#000000" stroke="#000000" stroke-width="1.0"/><rect x="184.60" y="371.99" width="9.3" height="9.3" fill="#000000" stroke="#000000" stroke-width="1.0"/><rect x="187.79" y="371.99" width="9.3" height="9.3" fill="#000000" stroke="#000000" stroke-width="1.0"/><rect x="190.97" y="371.99" width="9.3" height="9.3" fill="#000000" stroke="#000000" stroke-width="1.0"/><rect x="194.16" y="363.36" width="9.3" height="9.3" fill="#000000" stroke="#000000" stroke-width="1.0"/><rect x="197.35" y="338.17" width="9.3" height="9.3" fill="#000000" stroke="#000000" stroke-width="1.0"/><rect x="200.54" y="307.59" width="9.3" height="9.3" fill="#000000" stroke="#000000" stroke-width="1.0"/><rect x="203.73" y="274.12" width="9.3" height="9.3" fill="#000000" stroke="#000000" stroke-width="1.0"/><rect x="206.92" y="238.50" width="9.3" height="9.3" fill="#000000" stroke="#000000" stroke-width="1.0"/><rect x="210.11" y="204.32" width="9.3" height="9.3" fill="#000000" stroke="#000000" stroke-width="1.0"/><rect x="213.30" y="173.74" width="9.3" height="9.3" fill="#000000" stroke="#000000" stroke-width="1.0"/><rect x="216.49" y="149.27" width="9.3" height="9.3" fill="#000000" stroke="#000000" stroke-width="1.0"/><rect x="219.68" y="129.48" width="9.3" height="9.3" fill="#000000" stroke="#000000" stroke-width="1.0"/><rect x="222.87" y="115.09" width="9.3" height="9.3" fill="#000000" stroke="#000000" stroke-width="1.0"/><rect x="226.06" y="102.50" width="9.3" height="9.3" fill="#000000" stroke="#000000" stroke-width="1.0"/><rect x="229.25" y="96.38" width="9.3" height="9.3" fill="#000000" stroke="#000000" stroke-width="1.0"/><rect x="232.44" y="90.27" width="9.3" height="9.3" fill="#000000" stroke="#000000" stroke-width="1.0"/><rect x="235.62" y="87.30" width="9.3" height="9.3" fill="#000000" stroke="#000000" stroke-width="1.0"/><rect x="238.81" y="84.34" width="9.3" height="9.3" fill="#000000" stroke="#000000" stroke-width="1.0"/><rect x="242.00" y="81.38" width="9.3" height="9.3" fill="#000000" stroke="#000000" stroke-width="1.0"/><rect x="245.19" y="79.47" width="9.3" height="9.3" fill="#000000" stroke="#000000" stroke-width="1.0"/><rect x="248.38" y="78.27" width="9.3" height="9.3" fill="#000000" stroke="#000000" stroke-width="1.0"/><rect x="251.57" y="77.91" width="9.3" height="9.3" fill="#000000" stroke="#000000" stroke-width="1.0"/><rect x="254.76" y="76.41" width="9.3" height="9.3" fill="#000000" stroke="#000000" stroke-width="1.0"/><rect x="257.95" y="73.67" width="9.3" height="9.3" fill="#000000" stroke="#000000" stroke-width="1.0"/><rect x="261.14" y="73.38" width="9.3" height="9.3" fill="#000000" stroke="#000000" stroke-width="1.0"/><rect x="264.33" y="72.70" width="9.3" height="9.3" fill="#000000" stroke="#000000" stroke-width="1.0"/><rect x="267.52" y="72.96" width="9.3" height="9.3" fill="#000000" stroke="#000000" stroke-width="1.0"/><rect x="270.71" y="72.54" width="9.3" height="9.3" fill="#000000" stroke="#000000" stroke-width="1.0"/><rect x="273.90" y="71.88" width="9.3" height="9.3" fill="#000000" stroke="#000000" stroke-width="1.0"/><rect x="277.09" y="71.36" width="9.3" height="9.3" fill="#000000" stroke="#000000" stroke-width="1.0"/><rect x="280.28" y="70.89" width="9.3" height="9.3" fill="#000000" stroke="#000000" stroke-width="1.0"/><rect x="283.46" y="70.59" width="9.3" height="9.3" fill="#000000" stroke="#000000" stroke-width="1.0"/><rect x="286.65" y="71.67" width="9.3" height="9.3" fill="#000000" stroke="#000000" stroke-width="1.0"/><rect x="289.84" y="70.60" width="9.3" height="9.3" fill="#000000" stroke="#000000" stroke-width="1.0"/><rect x="293.03" y="70.81" width="9.3" height="9.3" fill="#000000" stroke="#000000" stroke-width="1.0"/><rect x="296.22" y="69.21" width="9.3" height="9.3" fill="#000000" stroke="#000000" stroke-width="1.0"/><rect x="299.41" y="68.17" width="9.3" height="9.3" fill="#000000" stroke="#000000" stroke-width="1.0"/><rect x="302.60" y="69.29" width="9.3" height="9.3" fill="#000000" stroke="#000000" stroke-width="1.0"/><rect x="305.79" y="68.27" width="9.3" height="9.3" fill="#000000" stroke="#000000" stroke-width="1.0"/><rect x="308.98" y="67.17" width="9.3" height="9.3" fill="#000000" stroke="#000000" stroke-width="1.0"/><rect x="312.17" y="66.71" width="9.3" height="9.3" fill="#000000" stroke="#000000" stroke-width="1.0"/><rect x="315.36" y="64.80" width="9.3" height="9.3" fill="#000000" stroke="#000000" stroke-width="1.0"/><rect x="318.55" y="65.04" width="9.3" height="9.3" fill="#000000" stroke="#000000" stroke-width="1.0"/><rect x="321.74" y="63.70" width="9.3" height="9.3" fill="#000000" stroke="#000000" stroke-width="1.0"/><rect x="324.93" y="63.30" width="9.3" height="9.3" fill="#000000" stroke="#000000" stroke-width="1.0"/><rect x="328.11" y="62.38" width="9.3" height="9.3" fill="#000000" stroke="#000000" stroke-width="1.0"/><rect x="331.30" y="60.89" width="9.3" height="9.3" fill="#000000" stroke="#000000" stroke-width="1.0"/><rect x="334.49" y="60.17" width="9.3" height="9.3" fill="#000000" stroke="#000000" stroke-width="1.0"/><rect x="337.68" y="61.10" width="9.3" height="9.3" fill="#000000" stroke="#000000" stroke-width="1.0"/><rect x="340.87" y="58.65" width="9.3" height="9.3" fill="#000000" stroke="#000000" stroke-width="1.0"/><rect x="344.06" y="58.86" width="9.3" height="9.3" fill="#000000" stroke="#000000" stroke-width="1.0"/><rect x="347.25" y="58.53" width="9.3" height="9.3" fill="#000000" stroke="#000000" stroke-width="1.0"/><rect x="350.44" y="57.06" width="9.3" height="9.3" fill="#000000" stroke="#000000" stroke-width="1.0"/><rect x="353.63" y="56.35" width="9.3" height="9.3" fill="#000000" stroke="#000000" stroke-width="1.0"/><rect x="356.82" y="54.95" width="9.3" height="9.3" fill="#000000" stroke="#000000" stroke-width="1.0"/><rect x="360.01" y="55.79" width="9.3" height="9.3" fill="#000000" stroke="#000000" stroke-width="1.0"/><rect x="363.20" y="56.13" width="9.3" height="9.3" fill="#000000" stroke="#000000" stroke-width="1.0"/><rect x="366.39" y="53.87" width="9.3" height="9.3" fill="#000000" stroke="#000000" stroke-width="1.0"/><rect x="369.58" y="55.31" width="9.3" height="9.3" fill="#000000" stroke="#000000" stroke-width="1.0"/><rect x="372.76" y="54.33" width="9.3" height="9.3" fill="#000000" stroke="#000000" stroke-width="1.0"/><rect x="375.95" y="53.35" width="9.3" height="9.3" fill="#000000" stroke="#000000" stroke-width="1.0"/><rect x="379.14" y="53.90" width="9.3" height="9.3" fill="#000000" stroke="#000000" stroke-width="1.0"/><rect x="382.33" y="53.86" width="9.3" height="9.3" fill="#000000" stroke="#000000" stroke-width="1.0"/><rect x="385.52" y="52.92" width="9.3" height="9.3" fill="#000000" stroke="#000000" stroke-width="1.0"/><rect x="388.71" y="54.42" width="9.3" height="9.3" fill="#000000" stroke="#000000" stroke-width="1.0"/><rect x="391.90" y="53.05" width="9.3" height="9.3" fill="#000000" stroke="#000000" stroke-width="1.0"/><rect x="395.09" y="53.22" width="9.3" height="9.3" fill="#000000" stroke="#000000" stroke-width="1.0"/><rect x="398.28" y="51.80" width="9.3" height="9.3" fill="#000000" stroke="#000000" stroke-width="1.0"/><rect x="401.47" y="52.18" width="9.3" height="9.3" fill="#000000" stroke="#000000" stroke-width="1.0"/><rect x="404.66" y="53.77" width="9.3" height="9.3" fill="#000000" stroke="#000000" stroke-width="1.0"/><rect x="407.85" y="53.46" width="9.3" height="9.3" fill="#000000" stroke="#000000" stroke-width="1.0"/><rect x="411.04" y="52.88" width="9.3" height="9.3" fill="#000000" stroke="#000000" stroke-width="1.0"/><rect x="414.23" y="52.32" width="9.3" height="9.3" fill="#000000" stroke="#000000" stroke-width="1.0"/><rect x="417.41" y="53.10" width="9.3" height="9.3" fill="#000000" stroke="#000000" stroke-width="1.0"/><rect x="420.60" y="53.02" width="9.3" height="9.3" fill="#000000" stroke="#000000" stroke-width="1.0"/><rect x="423.79" y="51.79" width="9.3" height="9.3" fill="#000000" stroke="#000000" stroke-width="1.0"/><rect x="426.98" y="51.71" width="9.3" height="9.3" fill="#000000" stroke="#000000" stroke-width="1.0"/><rect x="430.17" y="52.87" width="9.3" height="9.3" fill="#000000" stroke="#000000" stroke-width="1.0"/><rect x="433.36" y="51.79" width="9.3" height="9.3" fill="#000000" stroke="#000000" stroke-width="1.0"/><rect x="436.55" y="53.00" width="9.3" height="9.3" fill="#000000" stroke="#000000" stroke-width="1.0"/><rect x="439.74" y="53.51" width="9.3" height="9.3" fill="#000000" stroke="#000000" stroke-width="1.0"/><rect x="442.93" y="52.54" width="9.3" height="9.3" fill="#000000" stroke="#000000" stroke-width="1.0"/><rect x="446.12" y="52.23" width="9.3" height="9.3" fill="#000000" stroke="#000000" stroke-width="1.0"/><rect x="449.31" y="51.71" width="9.3" height="9.3" fill="#000000" stroke="#000000" stroke-width="1.0"/><rect x="452.50" y="51.54" width="9.3" height="9.3" fill="#000000" stroke="#000000" stroke-width="1.0"/><rect x="455.69" y="51.94" width="9.3" height="9.3" fill="#000000" stroke="#000000" stroke-width="1.0"/><rect x="458.88" y="51.95" width="9.3" height="9.3" fill="#000000" stroke="#000000" stroke-width="1.0"/><rect x="462.06" y="52.03" width="9.3" height="9.3" fill="#000000" stroke="#000000" stroke-width="1.0"/><rect x="465.25" y="52.03" width="9.3" height="9.3" fill="#000000" stroke="#000000" stroke-width="1.0"/><rect x="468.44" y="51.87" width="9.3" height="9.3" fill="#000000" stroke="#000000" stroke-width="1.0"/><rect x="471.63" y="51.41" width="9.3" height="9.3" fill="#000000" stroke="#000000" stroke-width="1.0"/><rect x="474.82" y="52.69" width="9.3" height="9.3" fill="#000000" stroke="#000000" stroke-width="1.0"/><rect x="478.01" y="53.30" width="9.3" height="9.3" fill="#000000" stroke="#000000" stroke-width="1.0"/><rect x="481.20" y="52.94" width="9.3" height="9.3" fill="#000000" stroke="#000000" stroke-width="1.0"/><rect x="484.39" y="52.96" width="9.3" height="9.3" fill="#000000" stroke="#000000" stroke-width="1.0"/><rect x="487.58" y="52.64" width="9.3" height="9.3" fill="#000000" stroke="#000000" stroke-width="1.0"/><rect x="490.77" y="51.66" width="9.3" height="9.3" fill="#000000" stroke="#000000" stroke-width="1.0"/><rect x="493.96" y="53.26" width="9.3" height="9.3" fill="#000000" stroke="#000000" stroke-width="1.0"/><rect x="497.15" y="52.40" width="9.3" height="9.3" fill="#000000" stroke="#000000" stroke-width="1.0"/><rect x="500.34" y="51.60" width="9.3" height="9.3" fill="#000000" stroke="#000000" stroke-width="1.0"/><rect x="503.53" y="52.76" width="9.3" height="9.3" fill="#000000" stroke="#000000" stroke-width="1.0"/><rect x="506.71" y="53.18" width="9.3" height="9.3" fill="#000000" stroke="#000000" stroke-width="1.0"/><rect x="509.90" y="52.77" width="9.3" height="9.3" fill="#000000" stroke="#000000" stroke-width="1.0"/><rect x="513.09" y="53.10" width="9.3" height="9.3" fill="#000000" stroke="#000000" stroke-width="1.0"/><rect x="516.28" y="51.52" width="9.3" height="9.3" fill="#000000" stroke="#000000" stroke-width="1.0"/><rect x="519.47" y="52.88" width="9.3" height="9.3" fill="#000000" stroke="#000000" stroke-width="1.0"/><rect x="522.66" y="52.80" width="9.3" height="9.3" fill="#000000" stroke="#000000" stroke-width="1.0"/><rect x="525.85" y="51.45" width="9.3" height="9.3" fill="#000000" stroke="#000000" stroke-width="1.0"/></g>
<g><polyline points="84.00,376.28 87.19,376.28 90.38,376.28 93.57,376.28 96.76,376.28 99.95,376.28 103.14,376.28 106.33,376.28 109.51,376.28 112.70,376.28 115.89,376.28 119.08,376.28 122.27,376.28 125.46,376.28 128.65,376.28 131.84,376.28 135.03,376.28 138.22,376.28 141.41,376.28 144.60,376.28 147.79,376.28 150.97,376.28 154.16,376.28 157.35,376.28 160.54,376.28 163.73,376.28 166.92,376.28 170.11,376.28 173.30,376.28 176.49,376.28 179.68,376.28 182.87,374.12 186.06,366.93 189.25,348.94 192.44,312.96 195.62,260.06 198.81,206.09 202.00,162.92 205.19,130.54 208.38,109.67 211.57,96.36 214.76,89.16 217.95,81.96 221.14,78.37 224.33,74.77 227.52,73.33 230.71,71.89 233.90,70.45 237.09,68.96 240.28,68.04 243.46,68.32 246.65,68.67 249.84,67.94 253.03,66.93 256.22,67.26 259.41,67.49 262.60,66.86 265.79,66.85 268.98,65.24 272.17,65.01 275.36,64.98 278.55,68.86 281.74,68.59 284.93,62.89 288.11,69.20 291.30,68.83 294.49,69.03 297.68,62.53 300.87,68.05 304.06,62.53 307.25,68.66 310.44,62.18 313.63,68.94 316.82,62.18 320.01,68.04 323.20,61.82 326.39,68.62 329.57,69.11 332.76,60.38 335.95,68.66 339.14,68.17 342.33,60.34 345.52,65.54 348.71,65.72 351.90,65.35 355.09,65.25 358.28,65.12 361.47,64.62 364.66,56.10 367.85,56.62 371.04,56.17 374.23,56.40 377.41,55.24 380.60,55.19 383.79,55.67 386.98,55.22 390.17,54.73 393.36,54.55 396.55,55.09 399.74,65.94 402.93,66.07 406.12,66.98 409.31,65.91 412.50,66.06 415.69,50.66 418.88,66.32 422.06,66.77 425.25,65.75 428.44,50.30 431.63,66.54 434.82,66.64 438.01,65.69 441.20,66.38 444.39,49.58 447.58,66.07 450.77,65.74 453.96,66.02 457.15,66.64 460.34,49.58 463.52,66.16 466.71,66.06 469.90,49.22 473.09,66.45 476.28,66.52 479.47,48.86 482.66,66.36 485.85,66.72 489.04,47.42 492.23,66.28 495.42,66.42 498.61,66.53 501.80,66.24 504.99,44.90 508.18,66.20 511.36,51.02 514.55,65.79 517.74,65.35 520.93,65.12 524.12,52.82 527.31,66.18 530.50,65.57" fill="none" stroke="#0000ff" stroke-width="1.5"/><polygon points="84.00,369.08 78.00,379.88 90.00,379.88" fill="#ffffff" stroke="#0000ff" stroke-width="1.0"/><polygon points="87.19,369.08 81.19,379.88 93.19,379.88" fill="#ffffff" stroke="#0000ff" stroke-width="1.0"/><polygon points="90.38,369.08 84.38,379.88 96.38,379.88" fill="#ffffff" stroke="#0000ff" stroke-width="1.0"/><polygon points="93.57,369.08 87.57,379.88 99.57,379.88" fill="#ffffff" stroke="#0000ff" stroke-width="1.0"/><polygon points="96.76,369.08 90.76,379.88 102.76,379.88" fill="#ffffff" stroke="#0000ff" stroke-width="1.0"/><polygon points="99.95,369.08 93.95,379.88 105.95,379.88" fill="#ffffff" stroke="#0000ff" stroke-width="1.0"/><polygon points="103.14,369.08 97.14,379.88 109.14,379.88" fill="#ffffff" stroke="#0000ff" stroke-width="1.0"/><polygon points="106.33,369.08 100.33,379.88 112.33,379.88" fill="#ffffff" stroke="#0000ff" stroke-width="1.0"/><polygon points="109.51,369.08 103.51,379.88 115.51,379.88" fill="#ffffff" stroke="#0000ff" stroke-width="1.0"/><polygon points="112.70,369.08 106.70,379.88 118.70,379.88" fill="#ffffff" stroke="#0000ff" stroke-width="1.0"/><polygon points="115.89,369.08 109.89,379.88 121.89,379.88" fill="#ffffff" stroke="#0000ff" stroke-width="1.0"/><polygon points="119.08,369.08 113.08,379.88 125.08,379.88" fill="#ffffff" stroke="#0000ff" stroke-width="1.0"/><polygon points="122.27,369.08 116.27,379.88 128.27,379.88" fill="#ffffff" stroke="#0000ff" stroke-width="1.0"/><polygon points="125.46,369.08 119.46,379.88 131.46,379.88" fill="#ffffff" stroke="#0000ff" stroke-width="1.0"/><polygon points="128.65,369.08 122.65,379.88 134.65,379.88" fill="#ffffff" stroke="#0000ff" stroke-width="1.0"/><polygon points="131.84,369.08 125.84,379.88 137.84,379.88" fill="#ffffff" stroke="#0000ff" stroke-width="1.0"/><polygon points="135.03,369.08 129.03,379.88 141.03,379.88" fill="#ffffff" stroke="#0000ff" stroke-width="1.0"/><polygon points="138.22,369.08 132.22,379.88 144.22,379.88" fill="#ffffff" stroke="#0000ff" stroke-width="1.0"/><polygon points="141.41,369.08 135.41,379.88 147.41,379.88" fill="#ffffff" stroke="#0000ff" stroke-width="1.0"/><polygon points="144.60,369.08 138.60,379.88 150.60,379.88" fill="#ffffff" stroke="#0000ff" stroke-width="1.0"/><polygon points="147.79,369.08 141.79,379.88 153.79,379.88" fill="#ffffff" stroke="#0000ff" stroke-width="1.0"/><polygon points="150.97,369.08 144.97,379.88 156.97,379.88" fill="#ffffff" stroke="#0000ff" stroke-width="1.0"/><polygon points="154.16,369.08 148.16,379.88 160.16,379.88" fill="#ffffff" stroke="#0000ff" stroke-width="1.0"/><polygon points="157.35,369.08 151.35,379.88 163.35,379.88" fill="#ffffff" stroke="#0000ff" stroke-width="1.0"/><polygon points="160.54,369.08 154.54,379.88 166.54,379.88" fill="#ffffff" stroke="#0000ff" stroke-width="1.0"/><polygon points="163.73,369.08 157.73,379.88 169.73,379.88" fill="#ffffff" stroke="#0000ff" stroke-width="1.0"/><polygon points="166.92,369.08 160.92,379.88 172.92,379.88" fill="#ffffff" stroke="#0000ff" stroke-width="1.0"/><polygon points="170.11,369.08 164.11,379.88 176.11,379.88" fill="#ffffff" stroke="#0000ff" stroke-width="1.0"/><polygon points="173.30,369.08 167.30,379.88 179.30,379.88" fill="#ffffff" stroke="#0000ff" stroke-width="1.0"/><polygon points="176.49,369.08 170.49,379.88 182.49,379.88" fill="#ffffff" stroke="#0000ff" stroke-width="1.0"/><polygon points="179.68,369.08 173.68,379.88 185.68,379.88" fill="#ffffff" stroke="#0000ff" stroke-width="1.0"/><polygon points="182.87,366.92 176.87,377.72 188.87,377.72" fill="#ffffff" stroke="#0000ff" stroke-width="1.0"/><polygon points="186.06,359.73 180.06,370.53 192.06,370.53" fill="#ffffff" stroke="#0000ff" stroke-width="1.0"/><polygon points="189.25,341.74 183.25,352.54 195.25,352.54" fill="#ffffff" stroke="#0000ff" stroke-width="1.0"/><polygon points="192.44,305.76 186.44,316.56 198.44,316.56" fill="#ffffff" stroke="#0000ff" stroke-width="1.0"/><polygon points="195.62,252.87 189.62,263.67 201.62,263.67" fill="#ffffff" stroke="#0000ff" stroke-width="1.0"/><polygon points="198.81,198.90 192.81,209.69 204.81,209.69" fill="#ffffff" stroke="#0000ff" stroke-width="1.0"/><polygon points="202.00,155.72 196.00,166.52 208.00,166.52" fill="#ffffff" stroke="#0000ff" stroke-width="1.0"/><polygon points="205.19,123.34 199.19,134.14 211.19,134.14" fill="#ffffff" stroke="#0000ff" stroke-width="1.0"/><polygon points="208.38,102.47 202.38,113.27 214.38,113.27" fill="#ffffff" stroke="#0000ff" stroke-width="1.0"/><polygon points="211.57,89.16 205.57,99.96 217.57,99.96" fill="#ffffff" stroke="#0000ff" stroke-width="1.0"/><polygon points="214.76,81.96 208.76,92.76 220.76,92.76" fill="#ffffff" stroke="#0000ff" stroke-width="1.0"/><polygon points="217.95,74.76 211.95,85.56 223.95,85.56" fill="#ffffff" stroke="#0000ff" stroke-width="1.0"/><polygon points="221.14,71.17 215.14,81.97 227.14,81.97" fill="#ffffff" stroke="#0000ff" stroke-width="1.0"/><polygon points="224.33,67.57 218.33,78.37 230.33,78.37" fill="#ffffff" stroke="#0000ff" stroke-width="1.0"/><polygon points="227.52,66.13 221.52,76.93 233.52,76.93" fill="#ffffff" stroke="#0000ff" stroke-width="1.0"/><polygon points="230.71,64.69 224.71,75.49 236.71,75.49" fill="#ffffff" stroke="#0000ff" stroke-width="1.0"/><polygon points="233.90,63.25 227.90,74.05 239.90,74.05" fill="#ffffff" stroke="#0000ff" stroke-width="1.0"/><polygon points="237.09,61.76 231.09,72.56 243.09,72.56" fill="#ffffff" stroke="#0000ff" stroke-width="1.0"/><polygon points="240.28,60.84 234.28,71.64 246.28,71.64" fill="#ffffff" stroke="#0000ff" stroke-width="1.0"/><polygon points="243.46,61.12 237.46,71.92 249.46,71.92" fill="#ffffff" stroke="#0000ff" stroke-width="1.0"/><polygon points="246.65,61.47 240.65,72.27 252.65,72.27" fill="#ffffff" stroke="#0000ff" stroke-width="1.0"/><polygon points="249.84,60.74 243.84,71.54 255.84,71.54" fill="#ffffff" stroke="#0000ff" stroke-width="1.0"/><polygon points="253.03,59.73 247.03,70.53 259.03,70.53" fill="#ffffff" stroke="#0000ff" stroke-width="1.0"/><polygon points="256.22,60.06 250.22,70.86 262.22,70.86" fill="#ffffff" stroke="#0000ff" stroke-width="1.0"/><polygon points="259.41,60.29 253.41,71.09 265.41,71.09" fill="#ffffff" stroke="#0000ff" stroke-width="1.0"/><polygon points="262.60,59.66 256.60,70.46 268.60,70.46" fill="#ffffff" stroke="#0000ff" stroke-width="1.0"/><polygon points="265.79,59.65 259.79,70.45 271.79,70.45" fill="#ffffff" stroke="#0000ff" stroke-width="1.0"/><polygon points="268.98,58.04 262.98,68.84 274.98,68.84" fill="#ffffff" stroke="#0000ff" stroke-width="1.0"/><polygon points="272.17,57.81 266.17,68.61 278.17,68.61" fill="#ffffff" stroke="#0000ff" stroke-width="1.0"/><polygon points="275.36,57.78 269.36,68.58 281.36,68.58" fill="#ffffff" stroke="#0000ff" stroke-width="1.0"/><polygon points="278.55,61.66 272.55,72.46 284.55,72.46" fill="#ffffff" stroke="#0000ff" stroke-width="1.0"/><polygon points="281.74,61.39 275.74,72.19 287.74,72.19" fill="#ffffff" stroke="#0000ff" stroke-width="1.0"/><polygon points="284.93,55.69 278.93,66.49 290.93,66.49" fill="#ffffff" stroke="#0000ff" stroke-width="1.0"/><polygon points="288.11,62.00 282.11,72.80 294.11,72.80" fill="#ffffff" stroke="#0000ff" stroke-width="1.0"/><polygon points="291.30,61.63 285.30,72.43 297.30,72.43" fill="#ffffff" stroke="#0000ff" stroke-width="1.0"/><polygon points="294.49,61.83 288.49,72.63 300.49,72.63" fill="#ffffff" stroke="#0000ff" stroke-width="1.0"/><polygon points="297.68,55.33 291.68,66.13 303.68,66.13" fill="#ffffff" stroke="#0000ff" stroke-width="1.0"/><polygon points="300.87,60.85 294.87,71.65 306.87,71.65" fill="#ffffff" stroke="#0000ff" stroke-width="1.0"/><polygon points="304.06,55.33 298.06,66.13 310.06,66.13" fill="#ffffff" stroke="#0000ff" stroke-width="1.0"/><polygon points="307.25,61.46 301.25,72.26 313.25,72.26" fill="#ffffff" stroke="#0000ff" stroke-width="1.0"/><polygon points="310.44,54.98 304.44,65.78 316.44,65.78" fill="#ffffff" stroke="#0000ff" stroke-width="1.0"/><polygon points="313.63,61.74 307.63,72.54 319.63,72.54" fill="#ffffff" stroke="#0000ff" stroke-width="1.0"/><polygon points="316.82,54.98 310.82,65.78 322.82,65.78" fill="#ffffff" stroke="#0000ff" stroke-width="1.0"/><polygon points="320.01,60.84 314.01,71.64 326.01,71.64" fill="#ffffff" stroke="#0000ff" stroke-width="1.0"/><polygon points="323.20,54.62 317.20,65.42 329.20,65.42" fill="#ffffff" stroke="#0000ff" stroke-width="1.0"/><polygon points="326.39,61.42 320.39,72.22 332.39,72.22" fill="#ffffff" stroke="#0000ff" stroke-width="1.0"/><polygon points="329.57,61.91 323.57,72.71 335.57,72.71" fill="#ffffff" stroke="#0000ff" stroke-width="1.0"/><polygon points="332.76,53.18 326.76,63.98 338.76,63.98" fill="#ffffff" stroke="#0000ff" stroke-width="1.0"/><polygon points="335.95,61.46 329.95,72.26 341.95,72.26" fill="#ffffff" stroke="#0000ff" stroke-width="1.0"/><polygon points="339.14,60.97 333.14,71.77 345.14,71.77" fill="#ffffff" stroke="#0000ff" stroke-width="1.0"/><polygon points="342.33,53.14 336.33,63.94 348.33,63.94" fill="#ffffff" stroke="#0000ff" stroke-width="1.0"/><polygon points="345.52,58.34 339.52,69.14 351.52,69.14" fill="#ffffff" stroke="#0000ff" stroke-width="1.0"/><polygon points="348.71,58.52 342.71,69.32 354.71,69.32" fill="#ffffff" stroke="#0000ff" stroke-width="1.0"/><polygon points="351.90,58.15 345.90,68.95 357.90,68.95" fill="#ffffff" stroke="#0000ff" stroke-width="1.0"/><polygon points="355.09,58.05 349.09,68.85 361.09,68.85" fill="#ffffff" stroke="#0000ff" stroke-width="1.0"/><polygon points="358.28,57.92 352.28,68.72 364.28,68.72" fill="#ffffff" stroke="#0000ff" stroke-width="1.0"/><polygon points="361.47,57.42 355.47,68.22 367.47,68.22" fill="#ffffff" stroke="#0000ff" stroke-width="1.0"/><polygon points="364.66,48.90 358.66,59.70 370.66,59.70" fill="#ffffff" stroke="#0000ff" stroke-width="1.0"/><polygon points="367.85,49.42 361.85,60.22 373.85,60.22" fill="#ffffff" stroke="#0000ff" stroke-width="1.0"/><polygon points="371.04,48.97 365.04,59.77 377.04,59.77" fill="#ffffff" stroke="#0000ff" stroke-width="1.0"/><polygon points="374.23,49.20 368.23,60.00 380.23,60.00" fill="#ffffff" stroke="#0000ff" stroke-width="1.0"/><polygon points="377.41,48.04 371.41,58.84 383.41,58.84" fill="#ffffff" stroke="#0000ff" stroke-width="1.0"/><polygon points="380.60,47.99 374.60,58.79 386.60,58.79" fill="#ffffff" stroke="#0000ff" stroke-width="1.0"/><polygon points="383.79,48.47 377.79,59.27 389.79,59.27" fill="#ffffff" stroke="#0000ff" stroke-width="1.0"/><polygon points="386.98,48.02 380.98,58.82 392.98,58.82" fill="#ffffff" stroke="#0000ff" stroke-width="1.0"/><polygon points="390.17,47.53 384.17,58.33 396.17,58.33" fill="#ffffff" stroke="#0000ff" stroke-width="1.0"/><polygon points="393.36,47.35 387.36,58.15 399.36,58.15" fill="#ffffff" stroke="#0000ff" stroke-width="1.0"/><polygon points="396.55,47.89 390.55,58.69 402.55,58.69" fill="#ffffff" stroke="#0000ff" stroke-width="1.0"/><polygon points="399.74,58.74 393.74,69.54 405.74,69.54" fill="#ffffff" stroke="#0000ff" stroke-width="1.0"/><polygon points="402.93,58.87 396.93,69.67 408.93,69.67" fill="#ffffff" stroke="#0000ff" stroke-width="1.0"/><polygon points="406.12,59.78 400.12,70.58 412.12,70.58" fill="#ffffff" stroke="#0000ff" stroke-width="1.0"/><polygon points="409.31,58.71 403.31,69.51 415.31,69.51" fill="#ffffff" stroke="#0000ff" stroke-width="1.0"/><polygon points="412.50,58.86 406.50,69.66 418.50,69.66" fill="#ffffff" stroke="#0000ff" stroke-width="1.0"/><polygon points="415.69,43.46 409.69,54.26 421.69,54.26" fill="#ffffff" stroke="#0000ff" stroke-width="1.0"/><polygon points="418.88,59.12 412.88,69.92 424.88,69.92" fill="#ffffff" stroke="#0000ff" stroke-width="1.0"/><polygon points="422.06,59.57 416.06,70.37 428.06,70.37" fill="#ffffff" stroke="#0000ff" stroke-width="1.0"/><polygon points="425.25,58.55 419.25,69.35 431.25,69.35" fill="#ffffff" stroke="#0000ff" stroke-width="1.0"/><polygon points="428.44,43.10 422.44,53.90 434.44,53.90" fill="#ffffff" stroke="#0000ff" stroke-width="1.0"/><polygon points="431.63,59.34 425.63,70.14 437.63,70.14" fill="#ffffff" stroke="#0000ff" stroke-width="1.0"/><polygon points="434.82,59.44 428.82,70.24 440.82,70.24" fill="#ffffff" stroke="#0000ff" stroke-width="1.0"/><polygon points="438.01,58.49 432.01,69.29 444.01,69.29" fill="#ffffff" stroke="#0000ff" stroke-width="1.0"/><polygon points="441.20,59.18 435.20,69.98 447.20,69.98" fill="#ffffff" stroke="#0000ff" stroke-width="1.0"/><polygon points="444.39,42.38 438.39,53.18 450.39,53.18" fill="#ffffff" stroke="#0000ff" stroke-width="1.0"/><polygon points="447.58,58.87 441.58,69.67 453.58,69.67" fill="#ffffff" stroke="#0000ff" stroke-width="1.0"/><polygon points="450.77,58.54 444.77,69.34 456.77,69.34" fill="#ffffff" stroke="#0000ff" stroke-width="1.0"/><polygon points="453.96,58.82 447.96,69.62 459.96,69.62" fill="#ffffff" stroke="#0000ff" stroke-width="1.0"/><polygon points="457.15,59.44 451.15,70.24 463.15,70.24" fill="#ffffff" stroke="#0000ff" stroke-width="1.0"/><polygon points="460.34,42.38 454.34,53.18 466.34,53.18" fill="#ffffff" stroke="#0000ff" stroke-width="1.0"/><polygon points="463.52,58.96 457.52,69.76 469.52,69.76" fill="#ffffff" stroke="#0000ff" stroke-width="1.0"/><polygon points="466.71,58.86 460.71,69.66 472.71,69.66" fill="#ffffff" stroke="#0000ff" stroke-width="1.0"/><polygon points="469.90,42.02 463.90,52.82 475.90,52.82" fill="#ffffff" stroke="#0000ff" stroke-width="1.0"/><polygon points="473.09,59.25 467.09,70.05 479.09,70.05" fill="#ffffff" stroke="#0000ff" stroke-width="1.0"/><polygon points="476.28,59.32 470.28,70.12 482.28,70.12" fill="#ffffff" stroke="#0000ff" stroke-width="1.0"/><polygon points="479.47,41.66 473.47,52.46 485.47,52.46" fill="#ffffff" stroke="#0000ff" stroke-width="1.0"/><polygon points="482.66,59.16 476.66,69.96 488.66,69.96" fill="#ffffff" stroke="#0000ff" stroke-width="1.0"/><polygon points="485.85,59.52 479.85,70.32 491.85,70.32" fill="#ffffff" stroke="#0000ff" stroke-width="1.0"/><polygon points="489.04,40.22 483.04,51.02 495.04,51.02" fill="#ffffff" stroke="#0000ff" stroke-width="1.0"/><polygon points="492.23,59.08 486.23,69.88 498.23,69.88" fill="#ffffff" stroke="#0000ff" stroke-width="1.0"/><polygon points="495.42,59.22 489.42,70.02 501.42,70.02" fill="#ffffff" stroke="#0000ff" stroke-width="1.0"/><polygon points="498.61,59.33 492.61,70.13 504.61,70.13" fill="#ffffff" stroke="#0000ff" stroke-width="1.0"/><polygon points="501.80,59.04 495.80,69.84 507.80,69.84" fill="#ffffff" stroke="#0000ff" stroke-width="1.0"/><polygon points="504.99,37.70 498.99,48.50 510.99,48.50" fill="#ffffff" stroke="#0000ff" stroke-width="1.0"/><polygon points="508.18,59.00 502.18,69.80 514.17,69.80" fill="#ffffff" stroke="#0000ff" stroke-width="1.0"/><polygon points="511.36,43.82 505.36,54.62 517.36,54.62" fill="#ffffff" stroke="#0000ff" stroke-width="1.0"/><polygon points="514.55,58.59 508.55,69.39 520.55,69.39" fill="#ffffff" stroke="#0000ff" stroke-width="1.0"/><polygon points="517.74,58.15 511.74,68.95 523.74,68.95" fill="#ffffff" stroke="#0000ff" stroke-width="1.0"/><polygon points="520.93,57.92 514.93,68.72 526.93,68.72" fill="#ffffff" stroke="#0000ff" stroke-width="1.0"/><polygon points="524.12,45.62 518.12,56.42 530.12,56.42" fill="#ffffff" stroke="#0000ff" stroke-width="1.0"/><polygon points="527.31,58.98 521.31,69.78 533.31,69.78" fill="#ffffff" stroke="#0000ff" stroke-width="1.0"/><polygon points="530.50,58.37 524.50,69.17 536.50,69.17" fill="#ffffff" stroke="#0000ff" stroke-width="1.0"/></g>
<g><polyline points="84.00,377.00 87.19,377.00 90.38,377.00 93.57,377.00 96.76,377.00 99.95,377.00 103.14,377.00 106.33,377.00 109.51,377.00 112.70,377.00 115.89,377.00 119.08,377.00 122.27,377.00 125.46,377.00 128.65,377.00 131.84,377.00 135.03,377.00 138.22,377.00 141.41,377.00 144.60,377.00 147.79,377.00 150.97,377.00 154.16,377.00 157.35,377.00 160.54,377.00 163.73,377.00 166.92,377.00 170.11,377.00 173.30,377.00 176.49,377.00 179.68,377.00 182.87,377.00 186.06,377.00 189.25,371.60 192.44,360.81 195.62,333.10 198.81,287.77 202.00,235.24 205.19,186.31 208.38,146.73 211.57,118.66 214.76,102.11 217.95,90.96 221.14,83.40 224.33,78.73 227.52,76.33 230.71,75.02 233.90,74.00 237.09,72.97 240.28,71.94 243.46,70.56 246.65,71.09 249.84,70.17 253.03,70.54 256.22,69.55 259.41,69.67 262.60,67.90 265.79,68.37 268.98,67.46 272.17,68.00 275.36,66.92 278.55,67.62 281.74,67.56 284.93,66.92 288.11,66.23 291.30,66.07 294.49,66.41 297.68,67.19 300.87,66.14 304.06,66.64 307.25,65.62 310.44,65.20 313.63,65.75 316.82,65.41 320.01,66.20 323.20,65.16 326.39,65.72 329.57,64.67 332.76,64.94 335.95,64.03 339.14,65.15 342.33,65.00 345.52,63.93 348.71,64.20 351.90,64.06 355.09,63.54 358.28,64.14 361.47,63.52 364.66,64.03 367.85,63.24 371.04,63.67 374.23,64.25 377.41,63.50 380.60,62.24 383.79,62.80 386.98,62.73 390.17,61.86 393.36,61.65 396.55,60.88 399.74,60.85 402.93,60.81 406.12,60.43 409.31,60.31 412.50,59.33 415.69,59.08 418.88,59.61 422.06,60.48 425.25,59.20 428.44,59.19 431.63,58.82 434.82,59.57 438.01,60.09 441.20,59.10 444.39,59.97 447.58,58.83 450.77,58.77 453.96,59.46 457.15,58.50 460.34,59.88 463.52,58.50 466.71,59.36 469.90,58.64 473.09,58.48 476.28,57.89 479.47,57.73 482.66,59.22 485.85,59.09 489.04,57.96 492.23,58.70 495.42,57.39 498.61,57.43 501.80,57.02 504.99,57.24 508.18,57.37 511.36,55.97 514.55,53.18 517.74,57.67 520.93,57.50 524.12,56.54 527.31,57.16 530.50,56.94" fill="none" stroke="#ff0000" stroke-width="1.5"/><circle cx="84.00" cy="377.00" r="5.2" fill="#ffffff" stroke="#ff0000" stroke-width="1.0"/><circle cx="87.19" cy="377.00" r="5.2" fill="#ffffff" stroke="#ff0000" stroke-width="1.0"/><circle cx="90.38" cy="377.00" r="5.2" fill="#ffffff" stroke="#ff0000" stroke-width="1.0"/><circle cx="93.57" cy="377.00" r="5.2" fill="#ffffff" stroke="#ff0000" stroke-width="1.0"/><circle cx="96.76" cy="377.00" r="5.2" fill="#ffffff" stroke="#ff0000" stroke-width="1.0"/><circle cx="99.95" cy="377.00" r="5.2" fill="#ffffff" stroke="#ff0000" stroke-width="1.0"/><circle cx="103.14" cy="377.00" r="5.2" fill="#ffffff" stroke="#ff0000" stroke-width="1.0"/><circle cx="106.33" cy="377.00" r="5.2" fill="#ffffff" stroke="#ff0000" stroke-width="1.0"/><circle cx="109.51" cy="377.00" r="5.2" fill="#ffffff" stroke="#ff0000" stroke-width="1.0"/><circle cx="112.70" cy="377.00" r="5.2" fill="#ffffff" stroke="#ff0000" stroke-width="1.0"/><circle cx="115.89" cy="377.00" r="5.2" fill="#ffffff" stroke="#ff0000" stroke-width="1.0"/><circle cx="119.08" cy="377.00" r="5.2" fill="#ffffff" stroke="#ff0000" stroke-width="1.0"/><circle cx="122.27" cy="377.00" r="5.2" fill="#ffffff" stroke="#ff0000" stroke-width="1.0"/><circle cx="125.46" cy="377.00" r="5.2" fill="#ffffff" stroke="#ff0000" stroke-width="1.0"/><circle cx="128.65" cy="377.00" r="5.2" fill="#ffffff" stroke="#ff0000" stroke-width="1.0"/><circle cx="131.84" cy="377.00" r="5.2" fill="#ffffff" stroke="#ff0000" stroke-width="1.0"/><circle cx="135.03" cy="377.00" r="5.2" fill="#ffffff" stroke="#ff0000" stroke-width="1.0"/><circle cx="138.22" cy="377.00" r="5.2" fill="#ffffff" stroke="#ff0000" stroke-width="1.0"/><circle cx="141.41" cy="377.00" r="5.2" fill="#ffffff" stroke="#ff0000" stroke-width="1.0"/><circle cx="144.60" cy="377.00" r="5.2" fill="#ffffff" stroke="#ff0000" stroke-width="1.0"/><circle cx="147.79" cy="377.00" r="5.2" fill="#ffffff" stroke="#ff0000" stroke-width="1.0"/><circle cx="150.97" cy="377.00" r="5.2" fill="#ffffff" stroke="#ff0000" stroke-width="1.0"/><circle cx="154.16" cy="377.00" r="5.2" fill="#ffffff" stroke="#ff0000" stroke-width="1.0"/><circle cx="157.35" cy="377.00" r="5.2" fill="#ffffff" stroke="#ff0000" stroke-width="1.0"/><circle cx="160.54" cy="377.00" r="5.2" fill="#ffffff" stroke="#ff0000" stroke-width="1.0"/><circle cx="163.73" cy="377.00" r="5.2" fill="#ffffff" stroke="#ff0000" stroke-width="1.0"/><circle cx="166.92" cy="377.00" r="5.2" fill="#ffffff" stroke="#ff0000" stroke-width="1.0"/><circle cx="170.11" cy="377.00" r="5.2" fill="#ffffff" stroke="#ff0000" stroke-width="1.0"/><circle cx="173.30" cy="377.00" r="5.2" fill="#ffffff" stroke="#ff0000" stroke-width="1.0"/><circle cx="176.49" cy="377.00" r="5.2" fill="#ffffff" stroke="#ff0000" stroke-width="1.0"/><circle cx="179.68" cy="377.00" r="5.2" fill="#ffffff" stroke="#ff0000" stroke-width="1.0"/><circle cx="182.87" cy="377.00" r="5.2" fill="#ffffff" stroke="#ff0000" stroke-width="1.0"/><circle cx="186.06" cy="377.00" r="5.2" fill="#ffffff" stroke="#ff0000" stroke-width="1.0"/><circle cx="189.25" cy="371.60" r="5.2" fill="#ffffff" stroke="#ff0000" stroke-width="1.0"/><circle cx="192.44" cy="360.81" r="5.2" fill="#ffffff" stroke="#ff0000" stroke-width="1.0"/><circle cx="195.62" cy="333.10" r="5.2" fill="#ffffff" stroke="#ff0000" stroke-width="1.0"/><circle cx="198.81" cy="287.77" r="5.2" fill="#ffffff" stroke="#ff0000" stroke-width="1.0"/><circle cx="202.00" cy="235.24" r="5.2" fill="#ffffff" stroke="#ff0000" stroke-width="1.0"/><circle cx="205.19" cy="186.31" r="5.2" fill="#ffffff" stroke="#ff0000" stroke-width="1.0"/><circle cx="208.38" cy="146.73" r="5.2" fill="#ffffff" stroke="#ff0000" stroke-width="1.0"/><circle cx="211.57" cy="118.66" r="5.2" fill="#ffffff" stroke="#ff0000" stroke-width="1.0"/><circle cx="214.76" cy="102.11" r="5.2" fill="#ffffff" stroke="#ff0000" stroke-width="1.0"/><circle cx="217.95" cy="90.96" r="5.2" fill="#ffffff" stroke="#ff0000" stroke-width="1.0"/><circle cx="221.14" cy="83.40" r="5.2" fill="#ffffff" stroke="#ff0000" stroke-width="1.0"/><circle cx="224.33" cy="78.73" r="5.2" fill="#ffffff" stroke="#ff0000" stroke-width="1.0"/><circle cx="227.52" cy="76.33" r="5.2" fill="#ffffff" stroke="#ff0000" stroke-width="1.0"/><circle cx="230.71" cy="75.02" r="5.2" fill="#ffffff" stroke="#ff0000" stroke-width="1.0"/><circle cx="233.90" cy="74.00" r="5.2" fill="#ffffff" stroke="#ff0000" stroke-width="1.0"/><circle cx="237.09" cy="72.97" r="5.2" fill="#ffffff" stroke="#ff0000" stroke-width="1.0"/><circle cx="240.28" cy="71.94" r="5.2" fill="#ffffff" stroke="#ff0000" stroke-width="1.0"/><circle cx="243.46" cy="70.56" r="5.2" fill="#ffffff" stroke="#ff0000" stroke-width="1.0"/><circle cx="246.65" cy="71.09" r="5.2" fill="#ffffff" stroke="#ff0000" stroke-width="1.0"/><circle cx="249.84" cy="70.17" r="5.2" fill="#ffffff" stroke="#ff0000" stroke-width="1.0"/><circle cx="253.03" cy="70.54" r="5.2" fill="#ffffff" stroke="#ff0000" stroke-width="1.0"/><circle cx="256.22" cy="69.55" r="5.2" fill="#ffffff" stroke="#ff0000" stroke-width="1.0"/><circle cx="259.41" cy="69.67" r="5.2" fill="#ffffff" stroke="#ff0000" stroke-width="1.0"/><circle cx="262.60" cy="67.90" r="5.2" fill="#ffffff" stroke="#ff0000" stroke-width="1.0"/><circle cx="265.79" cy="68.37" r="5.2" fill="#ffffff" stroke="#ff0000" stroke-width="1.0"/><circle cx="268.98" cy="67.46" r="5.2" fill="#ffffff" stroke="#ff0000" stroke-width="1.0"/><circle cx="272.17" cy="68.00" r="5.2" fill="#ffffff" stroke="#ff0000" stroke-width="1.0"/><circle cx="275.36" cy="66.92" r="5.2" fill="#ffffff" stroke="#ff0000" stroke-width="1.0"/><circle cx="278.55" cy="67.62" r="5.2" fill="#ffffff" stroke="#ff0000" stroke-width="1.0"/><circle cx="281.74" cy="67.56" r="5.2" fill="#ffffff" stroke="#ff0000" stroke-width="1.0"/><circle cx="284.93" cy="66.92" r="5.2" fill="#ffffff" stroke="#ff0000" stroke-width="1.0"/><circle cx="288.11" cy="66.23" r="5.2" fill="#ffffff" stroke="#ff0000" stroke-width="1.0"/><circle cx="291.30" cy="66.07" r="5.2" fill="#ffffff" stroke="#ff0000" stroke-width="1.0"/><circle cx="294.49" cy="66.41" r="5.2" fill="#ffffff" stroke="#ff0000" stroke-width="1.0"/><circle cx="297.68" cy="67.19" r="5.2" fill="#ffffff" stroke="#ff0000" stroke-width="1.0"/><circle cx="300.87" cy="66.14" r="5.2" fill="#ffffff" stroke="#ff0000" stroke-width="1.0"/><circle cx="304.06" cy="66.64" r="5.2" fill="#ffffff" stroke="#ff0000" stroke-width="1.0"/><circle cx="307.25" cy="65.62" r="5.2" fill="#ffffff" stroke="#ff0000" stroke-width="1.0"/><circle cx="310.44" cy="65.20" r="5.2" fill="#ffffff" stroke="#ff0000" stroke-width="1.0"/><circle cx="313.63" cy="65.75" r="5.2" fill="#ffffff" stroke="#ff0000" stroke-width="1.0"/><circle cx="316.82" cy="65.41" r="5.2" fill="#ffffff" stroke="#ff0000" stroke-width="1.0"/><circle cx="320.01" cy="66.20" r="5.2" fill="#ffffff" stroke="#ff0000" stroke-width="1.0"/><circle cx="323.20" cy="65.16" r="5.2" fill="#ffffff" stroke="#ff0000" stroke-width="1.0"/><circle cx="326.39" cy="65.72" r="5.2" fill="#ffffff" stroke="#ff0000" stroke-width="1.0"/><circle cx="329.57" cy="64.67" r="5.2" fill="#ffffff" stroke="#ff0000" stroke-width="1.0"/><circle cx="332.76" cy="64.94" r="5.2" fill="#ffffff" stroke="#ff0000" stroke-width="1.0"/><circle cx="335.95" cy="64.03" r="5.2" fill="#ffffff" stroke="#ff0000" stroke-width="1.0"/><circle cx="339.14" cy="65.15" r="5.2" fill="#ffffff" stroke="#ff0000" stroke-width="1.0"/><circle cx="342.33" cy="65.00" r="5.2" fill="#ffffff" stroke="#ff0000" stroke-width="1.0"/><circle cx="345.52" cy="63.93" r="5.2" fill="#ffffff" stroke="#ff0000" stroke-width="1.0"/><circle cx="348.71" cy="64.20" r="5.2" fill="#ffffff" stroke="#ff0000" stroke-width="1.0"/><circle cx="351.90" cy="64.06" r="5.2" fill="#ffffff" stroke="#ff0000" stroke-width="1.0"/><circle cx="355.09" cy="63.54" r="5.2" fill="#ffffff" stroke="#ff0000" stroke-width="1.0"/><circle cx="358.28" cy="64.14" r="5.2" fill="#ffffff" stroke="#ff0000" stroke-width="1.0"/><circle cx="361.47" cy="63.52" r="5.2" fill="#ffffff" stroke="#ff0000" stroke-width="1.0"/><circle cx="364.66" cy="64.03" r="5.2" fill="#ffffff" stroke="#ff0000" stroke-width="1.0"/><circle cx="367.85" cy="63.24" r="5.2" fill="#ffffff" stroke="#ff0000" stroke-width="1.0"/><circle cx="371.04" cy="63.67" r="5.2" fill="#ffffff" stroke="#ff0000" stroke-width="1.0"/><circle cx="374.23" cy="64.25" r="5.2" fill="#ffffff" stroke="#ff0000" stroke-width="1.0"/><circle cx="377.41" cy="63.50" r="5.2" fill="#ffffff" stroke="#ff0000" stroke-width="1.0"/><circle cx="380.60" cy="62.24" r="5.2" fill="#ffffff" stroke="#ff0000" stroke-width="1.0"/><circle cx="383.79" cy="62.80" r="5.2" fill="#ffffff" stroke="#ff0000" stroke-width="1.0"/><circle cx="386.98" cy="62.73" r="5.2" fill="#ffffff" stroke="#ff0000" stroke-width="1.0"/><circle cx="390.17" cy="61.86" r="5.2" fill="#ffffff" stroke="#ff0000" stroke-width="1.0"/><circle cx="393.36" cy="61.65" r="5.2" fill="#ffffff" stroke="#ff0000" stroke-width="1.0"/><circle cx="396.55" cy="60.88" r="5.2" fill="#ffffff" stroke="#ff0000" stroke-width="1.0"/><circle cx="399.74" cy="60.85" r="5.2" fill="#ffffff" stroke="#ff0000" stroke-width="1.0"/><circle cx="402.93" cy="60.81" r="5.2" fill="#ffffff" stroke="#ff0000" stroke-width="1.0"/><circle cx="406.12" cy="60.43" r="5.2" fill="#ffffff" stroke="#ff0000" stroke-width="1.0"/><circle cx="409.31" cy="60.31" r="5.2" fill="#ffffff" stroke="#ff0000" stroke-width="1.0"/><circle cx="412.50" cy="59.33" r="5.2" fill="#ffffff" stroke="#ff0000" stroke-width="1.0"/><circle cx="415.69" cy="59.08" r="5.2" fill="#ffffff" stroke="#ff0000" stroke-width="1.0"/><circle cx="418.88" cy="59.61" r="5.2" fill="#ffffff" stroke="#ff0000" stroke-width="1.0"/><circle cx="422.06" cy="60.48" r="5.2" fill="#ffffff" stroke="#ff0000" stroke-width="1.0"/><circle cx="425.25" cy="59.20" r="5.2" fill="#ffffff" stroke="#ff0000" stroke-width="1.0"/><circle cx="428.44" cy="59.19" r="5.2" fill="#ffffff" stroke="#ff0000" stroke-width="1.0"/><circle cx="431.63" cy="58.82" r="5.2" fill="#ffffff" stroke="#ff0000" stroke-width="1.0"/><circle cx="434.82" cy="59.57" r="5.2" fill="#ffffff" stroke="#ff0000" stroke-width="1.0"/><circle cx="438.01" cy="60.09" r="5.2" fill="#ffffff" stroke="#ff0000" stroke-width="1.0"/><circle cx="441.20" cy="59.10" r="5.2" fill="#ffffff" stroke="#ff0000" stroke-width="1.0"/><circle cx="444.39" cy="59.97" r="5.2" fill="#ffffff" stroke="#ff0000" stroke-width="1.0"/><circle cx="447.58" cy="58.83" r="5.2" fill="#ffffff" stroke="#ff0000" stroke-width="1.0"/><circle cx="450.77" cy="58.77" r="5.2" fill="#ffffff" stroke="#ff0000" stroke-width="1.0"/><circle cx="453.96" cy="59.46" r="5.2" fill="#ffffff" stroke="#ff0000" stroke-width="1.0"/><circle cx="457.15" cy="58.50" r="5.2" fill="#ffffff" stroke="#ff0000" stroke-width="1.0"/><circle cx="460.34" cy="59.88" r="5.2" fill="#ffffff" stroke="#ff0000" stroke-width="1.0"/><circle cx="463.52" cy="58.50" r="5.2" fill="#ffffff" stroke="#ff0000" stroke-width="1.0"/><circle cx="466.71" cy="59.36" r="5.2" fill="#ffffff" stroke="#ff0000" stroke-width="1.0"/><circle cx="469.90" cy="58.64" r="5.2" fill="#ffffff" stroke="#ff0000" stroke-width="1.0"/><circle cx="473.09" cy="58.48" r="5.2" fill="#ffffff" stroke="#ff0000" stroke-width="1.0"/><circle cx="476.28" cy="57.89" r="5.2" fill="#ffffff" stroke="#ff0000" stroke-width="1.0"/><circle cx="479.47" cy="57.73" r="5.2" fill="#ffffff" stroke="#ff0000" stroke-width="1.0"/><circle cx="482.66" cy="59.22" r="5.2" fill="#ffffff" stroke="#ff0000" stroke-width="1.0"/><circle cx="485.85" cy="59.09" r="5.2" fill="#ffffff" stroke="#ff0000" stroke-width="1.0"/><circle cx="489.04" cy="57.96" r="5.2" fill="#ffffff" stroke="#ff0000" stroke-width="1.0"/><circle cx="492.23" cy="58.70" r="5.2" fill="#ffffff" stroke="#ff0000" stroke-width="1.0"/><circle cx="495.42" cy="57.39" r="5.2" fill="#ffffff" stroke="#ff0000" stroke-width="1.0"/><circle cx="498.61" cy="57.43" r="5.2" fill="#ffffff" stroke="#ff0000" stroke-width="1.0"/><circle cx="501.80" cy="57.02" r="5.2" fill="#ffffff" stroke="#ff0000" stroke-width="1.0"/><circle cx="504.99" cy="57.24" r="5.2" fill="#ffffff" stroke="#ff0000" stroke-width="1.0"/><circle cx="508.18" cy="57.37" r="5.2" fill="#ffffff" stroke="#ff0000" stroke-width="1.0"/><circle cx="511.36" cy="55.97" r="5.2" fill="#ffffff" stroke="#ff0000" stroke-width="1.0"/><circle cx="514.55" cy="53.18" r="5.2" fill="#ffffff" stroke="#ff0000" stroke-width="1.0"/><circle cx="517.74" cy="57.67" r="5.2" fill="#ffffff" stroke="#ff0000" stroke-width="1.0"/><circle cx="520.93" cy="57.50" r="5.2" fill="#ffffff" stroke="#ff0000" stroke-width="1.0"/><circle cx="524.12" cy="56.54" r="5.2" fill="#ffffff" stroke="#ff0000" stroke-width="1.0"/><circle cx="527.31" cy="57.16" r="5.2" fill="#ffffff" stroke="#ff0000" stroke-width="1.0"/><circle cx="530.50" cy="56.94" r="5.2" fill="#ffffff" stroke="#ff0000" stroke-width="1.0"/></g>
<g><polyline points="84.00,377.00 87.19,377.00 90.38,377.00 93.57,377.00 96.76,377.00 99.95,377.00 103.14,377.00 106.33,377.00 109.51,377.00 112.70,377.00 115.89,377.00 119.08,377.00 122.27,377.00 125.46,377.00 128.65,377.00 131.84,377.00 135.03,377.00 138.22,377.00 141.41,377.00 144.60,377.00 147.79,377.00 150.97,377.00 154.16,377.00 157.35,377.00 160.54,377.00 163.73,377.00 166.92,377.00 170.11,377.00 173.30,377.00 176.49,377.00 179.68,377.00 182.87,377.00 186.06,377.00 189.25,377.00 192.44,377.00 195.62,371.96 198.81,358.29 202.00,333.46 205.19,298.56 208.38,258.27 211.57,220.49 214.76,187.39 217.95,161.12 221.14,141.33 224.33,125.14 227.52,112.55 230.71,105.35 233.90,100.73 237.09,97.26 240.28,94.56 243.46,92.56 246.65,91.04 249.84,89.52 253.03,88.36 256.22,87.21 259.41,86.07 262.60,85.58 265.79,84.28 268.98,82.32 272.17,81.71 275.36,80.19 278.55,79.13 281.74,78.48 284.93,78.74 288.11,76.94 291.30,76.18 294.49,75.30 297.68,73.88 300.87,72.92 304.06,72.37 307.25,72.54 310.44,71.28 313.63,72.20 316.82,71.72 320.01,70.17 323.20,70.86 326.39,71.08 329.57,68.80 332.76,68.42 335.95,66.23 339.14,66.04 342.33,65.52 345.52,66.82 348.71,71.44 351.90,73.02 355.09,72.08 358.28,70.18 361.47,69.81 364.66,73.40 367.85,69.47 371.04,67.53 374.23,67.73 377.41,67.38 380.60,66.87 383.79,67.69 386.98,67.18 390.17,66.20 393.36,66.75 396.55,66.77 399.74,67.99 402.93,68.06 406.12,69.05 409.31,69.32 412.50,68.54 415.69,69.07 418.88,68.16 422.06,69.23 425.25,66.16 428.44,64.50 431.63,65.16 434.82,65.43 438.01,68.99 441.20,65.77 444.39,69.37 447.58,62.53 450.77,68.29 453.96,60.74 457.15,69.37 460.34,61.10 463.52,69.73 466.71,61.10 469.90,65.41 473.09,70.09 476.28,64.33 479.47,62.18 482.66,72.97 485.85,67.57 489.04,58.94 492.23,65.77 495.42,72.61 498.61,58.22 501.80,66.85 504.99,60.38 508.18,71.17 511.36,59.30 514.55,67.57 517.74,67.57 520.93,59.30 524.12,78.73 527.31,66.13 530.50,71.17" fill="none" stroke="#000000" stroke-width="1.5"/><rect x="79.35" y="372.35" width="9.3" height="9.3" fill="#ffffff" stroke="#000000" stroke-width="1.0"/><rect x="82.54" y="372.35" width="9.3" height="9.3" fill="#ffffff" stroke="#000000" stroke-width="1.0"/><rect x="85.73" y="372.35" width="9.3" height="9.3" fill="#ffffff" stroke="#000000" stroke-width="1.0"/><rect x="88.92" y="372.35" width="9.3" height="9.3" fill="#ffffff" stroke="#000000" stroke-width="1.0"/><rect x="92.11" y="372.35" width="9.3" height="9.3" fill="#ffffff" stroke="#000000" stroke-width="1.0"/><rect x="95.30" y="372.35" width="9.3" height="9.3" fill="#ffffff" stroke="#000000" stroke-width="1.0"/><rect x="98.49" y="372.35" width="9.3" height="9.3" fill="#ffffff" stroke="#000000" stroke-width="1.0"/><rect x="101.67" y="372.35" width="9.3" height="9.3" fill="#ffffff" stroke="#000000" stroke-width="1.0"/><rect x="104.86" y="372.35" width="9.3" height="9.3" fill="#ffffff" stroke="#000000" stroke-width="1.0"/><rect x="108.05" y="372.35" width="9.3" height="9.3" fill="#ffffff" stroke="#000000" stroke-width="1.0"/><rect x="111.24" y="372.35" width="9.3" height="9.3" fill="#ffffff" stroke="#000000" stroke-width="1.0"/><rect x="114.43" y="372.35" width="9.3" height="9.3" fill="#ffffff" stroke="#000000" stroke-width="1.0"/><rect x="117.62" y="372.35" width="9.3" height="9.3" fill="#ffffff" stroke="#000000" stroke-width="1.0"/><rect x="120.81" y="372.35" width="9.3" height="9.3" fill="#ffffff" stroke="#000000" stroke-width="1.0"/><rect x="124.00" y="372.35" width="9.3" height="9.3" fill="#ffffff" stroke="#000000" stroke-width="1.0"/><rect x="127.19" y="372.35" width="9.3" height="9.3" fill="#ffffff" stroke="#000000" stroke-width="1.0"/><rect x="130.38" y="372.35" width="9.3" height="9.3" fill="#ffffff" stroke="#000000" stroke-width="1.0"/><rect x="133.57" y="372.35" width="9.3" height="9.3" fill="#ffffff" stroke="#000000" stroke-width="1.0"/><rect x="136.76" y="372.35" width="9.3" height="9.3" fill="#ffffff" stroke="#000000" stroke-width="1.0"/><rect x="139.95" y="372.35" width="9.3" height="9.3" fill="#ffffff" stroke="#000000" stroke-width="1.0"/><rect x="143.14" y="372.35" width="9.3" height="9.3" fill="#ffffff" stroke="#000000" stroke-width="1.0"/><rect x="146.32" y="372.35" width="9.3" height="9.3" fill="#ffffff" stroke="#000000" stroke-width="1.0"/><rect x="149.51" y="372.35" width="9.3" height="9.3" fill="#ffffff" stroke="#000000" stroke-width="1.0"/><rect x="152.70" y="372.35" width="9.3" height="9.3" fill="#ffffff" stroke="#000000" stroke-width="1.0"/><rect x="155.89" y="372.35" width="9.3" height="9.3" fill="#ffffff" stroke="#000000" stroke-width="1.0"/><rect x="159.08" y="372.35" width="9.3" height="9.3" fill="#ffffff" stroke="#000000" stroke-width="1.0"/><rect x="162.27" y="372.35" width="9.3" height="9.3" fill="#ffffff" stroke="#000000" stroke-width="1.0"/><rect x="165.46" y="372.35" width="9.3" height="9.3" fill="#ffffff" stroke="#000000" stroke-width="1.0"/><rect x="168.65" y="372.35" width="9.3" height="9.3" fill="#ffffff" stroke="#000000" stroke-width="1.0"/><rect x="171.84" y="372.35" width="9.3" height="9.3" fill="#ffffff" stroke="#000000" stroke-width="1.0"/><rect x="175.03" y="372.35" width="9.3" height="9.3" fill="#ffffff" stroke="#000000" stroke-width="1.0"/><rect x="178.22" y="372.35" width="9.3" height="9.3" fill="#ffffff" stroke="#000000" stroke-width="1.0"/><rect x="181.41" y="372.35" width="9.3" height="9.3" fill="#ffffff" stroke="#000000" stroke-width="1.0"/><rect x="184.60" y="372.35" width="9.3" height="9.3" fill="#ffffff" stroke="#000000" stroke-width="1.0"/><rect x="187.79" y="372.35" width="9.3" height="9.3" fill="#ffffff" stroke="#000000" stroke-width="1.0"/><rect x="190.97" y="367.31" width="9.3" height="9.3" fill="#ffffff" stroke="#000000" stroke-width="1.0"/><rect x="194.16" y="353.64" width="9.3" height="9.3" fill="#ffffff" stroke="#000000" stroke-width="1.0"/><rect x="197.35" y="328.81" width="9.3" height="9.3" fill="#ffffff" stroke="#000000" stroke-width="1.0"/><rect x="200.54" y="293.91" width="9.3" height="9.3" fill="#ffffff" stroke="#000000" stroke-width="1.0"/><rect x="203.73" y="253.62" width="9.3" height="9.3" fill="#ffffff" stroke="#000000" stroke-width="1.0"/><rect x="206.92" y="215.84" width="9.3" height="9.3" fill="#ffffff" stroke="#000000" stroke-width="1.0"/><rect x="210.11" y="182.74" width="9.3" height="9.3" fill="#ffffff" stroke="#000000" stroke-width="1.0"/><rect x="213.30" y="156.47" width="9.3" height="9.3" fill="#ffffff" stroke="#000000" stroke-width="1.0"/><rect x="216.49" y="136.68" width="9.3" height="9.3" fill="#ffffff" stroke="#000000" stroke-width="1.0"/><rect x="219.68" y="120.49" width="9.3" height="9.3" fill="#ffffff" stroke="#000000" stroke-width="1.0"/><rect x="222.87" y="107.90" width="9.3" height="9.3" fill="#ffffff" stroke="#000000" stroke-width="1.0"/><rect x="226.06" y="100.70" width="9.3" height="9.3" fill="#ffffff" stroke="#000000" stroke-width="1.0"/><rect x="229.25" y="96.08" width="9.3" height="9.3" fill="#ffffff" stroke="#000000" stroke-width="1.0"/><rect x="232.44" y="92.61" width="9.3" height="9.3" fill="#ffffff" stroke="#000000" stroke-width="1.0"/><rect x="235.62" y="89.91" width="9.3" height="9.3" fill="#ffffff" stroke="#000000" stroke-width="1.0"/><rect x="238.81" y="87.91" width="9.3" height="9.3" fill="#ffffff" stroke="#000000" stroke-width="1.0"/><rect x="242.00" y="86.39" width="9.3" height="9.3" fill="#ffffff" stroke="#000000" stroke-width="1.0"/><rect x="245.19" y="84.87" width="9.3" height="9.3" fill="#ffffff" stroke="#000000" stroke-width="1.0"/><rect x="248.38" y="83.71" width="9.3" height="9.3" fill="#ffffff" stroke="#000000" stroke-width="1.0"/><rect x="251.57" y="82.56" width="9.3" height="9.3" fill="#ffffff" stroke="#000000" stroke-width="1.0"/><rect x="254.76" y="81.42" width="9.3" height="9.3" fill="#ffffff" stroke="#000000" stroke-width="1.0"/><rect x="257.95" y="80.93" width="9.3" height="9.3" fill="#ffffff" stroke="#000000" stroke-width="1.0"/><rect x="261.14" y="79.63" width="9.3" height="9.3" fill="#ffffff" stroke="#000000" stroke-width="1.0"/><rect x="264.33" y="77.67" width="9.3" height="9.3" fill="#ffffff" stroke="#000000" stroke-width="1.0"/><rect x="267.52" y="77.06" width="9.3" height="9.3" fill="#ffffff" stroke="#000000" stroke-width="1.0"/><rect x="270.71" y="75.54" width="9.3" height="9.3" fill="#ffffff" stroke="#000000" stroke-width="1.0"/><rect x="273.90" y="74.48" width="9.3" height="9.3" fill="#ffffff" stroke="#000000" stroke-width="1.0"/><rect x="277.09" y="73.83" width="9.3" height="9.3" fill="#ffffff" stroke="#000000" stroke-width="1.0"/><rect x="280.28" y="74.09" width="9.3" height="9.3" fill="#ffffff" stroke="#000000" stroke-width="1.0"/><rect x="283.46" y="72.29" width="9.3" height="9.3" fill="#ffffff" stroke="#000000" stroke-width="1.0"/><rect x="286.65" y="71.53" width="9.3" height="9.3" fill="#ffffff" stroke="#000000" stroke-width="1.0"/><rect x="289.84" y="70.65" width="9.3" height="9.3" fill="#ffffff" stroke="#000000" stroke-width="1.0"/><rect x="293.03" y="69.23" width="9.3" height="9.3" fill="#ffffff" stroke="#000000" stroke-width="1.0"/><rect x="296.22" y="68.27" width="9.3" height="9.3" fill="#ffffff" stroke="#000000" stroke-width="1.0"/><rect x="299.41" y="67.72" width="9.3" height="9.3" fill="#ffffff" stroke="#000000" stroke-width="1.0"/><rect x="302.60" y="67.89" width="9.3" height="9.3" fill="#ffffff" stroke="#000000" stroke-width="1.0"/><rect x="305.79" y="66.63" width="9.3" height="9.3" fill="#ffffff" stroke="#000000" stroke-width="1.0"/><rect x="308.98" y="67.55" width="9.3" height="9.3" fill="#ffffff" stroke="#000000" stroke-width="1.0"/><rect x="312.17" y="67.07" width="9.3" height="9.3" fill="#ffffff" stroke="#000000" stroke-width="1.0"/><rect x="315.36" y="65.52" width="9.3" height="9.3" fill="#ffffff" stroke="#000000" stroke-width="1.0"/><rect x="318.55" y="66.21" width="9.3" height="9.3" fill="#ffffff" stroke="#000000" stroke-width="1.0"/><rect x="321.74" y="66.43" width="9.3" height="9.3" fill="#ffffff" stroke="#000000" stroke-width="1.0"/><rect x="324.93" y="64.15" width="9.3" height="9.3" fill="#ffffff" stroke="#000000" stroke-width="1.0"/><rect x="328.11" y="63.77" width="9.3" height="9.3" fill="#ffffff" stroke="#000000" stroke-width="1.0"/><rect x="331.30" y="61.58" width="9.3" height="9.3" fill="#ffffff" stroke="#000000" stroke-width="1.0"/><rect x="334.49" y="61.39" width="9.3" height="9.3" fill="#ffffff" stroke="#000000" stroke-width="1.0"/><rect x="337.68" y="60.87" width="9.3" height="9.3" fill="#ffffff" stroke="#000000" stroke-width="1.0"/><rect x="340.87" y="62.17" width="9.3" height="9.3" fill="#ffffff" stroke="#000000" stroke-width="1.0"/><rect x="344.06" y="66.79" width="9.3" height="9.3" fill="#ffffff" stroke="#000000" stroke-width="1.0"/><rect x="347.25" y="68.37" width="9.3" height="9.3" fill="#ffffff" stroke="#000000" stroke-width="1.0"/><rect x="350.44" y="67.43" width="9.3" height="9.3" fill="#ffffff" stroke="#000000" stroke-width="1.0"/><rect x="353.63" y="65.53" width="9.3" height="9.3" fill="#ffffff" stroke="#000000" stroke-width="1.0"/><rect x="356.82" y="65.16" width="9.3" height="9.3" fill="#ffffff" stroke="#000000" stroke-width="1.0"/><rect x="360.01" y="68.75" width="9.3" height="9.3" fill="#ffffff" stroke="#000000" stroke-width="1.0"/><rect x="363.20" y="64.82" width="9.3" height="9.3" fill="#ffffff" stroke="#000000" stroke-width="1.0"/><rect x="366.39" y="62.88" width="9.3" height="9.3" fill="#ffffff" stroke="#000000" stroke-width="1.0"/><rect x="369.58" y="63.08" width="9.3" height="9.3" fill="#ffffff" stroke="#000000" stroke-width="1.0"/><rect x="372.76" y="62.73" width="9.3" height="9.3" fill="#ffffff" stroke="#000000" stroke-width="1.0"/><rect x="375.95" y="62.22" width="9.3" height="9.3" fill="#ffffff" stroke="#000000" stroke-width="1.0"/><rect x="379.14" y="63.04" width="9.3" height="9.3" fill="#ffffff" stroke="#000000" stroke-width="1.0"/><rect x="382.33" y="62.53" width="9.3" height="9.3" fill="#ffffff" stroke="#000000" stroke-width="1.0"/><rect x="385.52" y="61.55" width="9.3" height="9.3" fill="#ffffff" stroke="#000000" stroke-width="1.0"/><rect x="388.71" y="62.10" width="9.3" height="9.3" fill="#ffffff" stroke="#000000" stroke-width="1.0"/><rect x="391.90" y="62.12" width="9.3" height="9.3" fill="#ffffff" stroke="#000000" stroke-width="1.0"/><rect x="395.09" y="63.34" width="9.3" height="9.3" fill="#ffffff" stroke="#000000" stroke-width="1.0"/><rect x="398.28" y="63.41" width="9.3" height="9.3" fill="#ffffff" stroke="#000000" stroke-width="1.0"/><rect x="401.47" y="64.40" width="9.3" height="9.3" fill="#ffffff" stroke="#000000" stroke-width="1.0"/><rect x="404.66" y="64.67" width="9.3" height="9.3" fill="#ffffff" stroke="#000000" stroke-width="1.0"/><rect x="407.85" y="63.89" width="9.3" height="9.3" fill="#ffffff" stroke="#000000" stroke-width="1.0"/><rect x="411.04" y="64.42" width="9.3" height="9.3" fill="#ffffff" stroke="#000000" stroke-width="1.0"/><rect x="414.23" y="63.51" width="9.3" height="9.3" fill="#ffffff" stroke="#000000" stroke-width="1.0"/><rect x="417.41" y="64.58" width="9.3" height="9.3" fill="#ffffff" stroke="#000000" stroke-width="1.0"/><rect x="420.60" y="61.51" width="9.3" height="9.3" fill="#ffffff" stroke="#000000" stroke-width="1.0"/><rect x="423.79" y="59.85" width="9.3" height="9.3" fill="#ffffff" stroke="#000000" stroke-width="1.0"/><rect x="426.98" y="60.51" width="9.3" height="9.3" fill="#ffffff" stroke="#000000" stroke-width="1.0"/><rect x="430.17" y="60.78" width="9.3" height="9.3" fill="#ffffff" stroke="#000000" stroke-width="1.0"/><rect x="433.36" y="64.34" width="9.3" height="9.3" fill="#ffffff" stroke="#000000" stroke-width="1.0"/><rect x="436.55" y="61.12" width="9.3" height="9.3" fill="#ffffff" stroke="#000000" stroke-width="1.0"/><rect x="439.74" y="64.72" width="9.3" height="9.3" fill="#ffffff" stroke="#000000" stroke-width="1.0"/><rect x="442.93" y="57.88" width="9.3" height="9.3" fill="#ffffff" stroke="#000000" stroke-width="1.0"/><rect x="446.12" y="63.64" width="9.3" height="9.3" fill="#ffffff" stroke="#000000" stroke-width="1.0"/><rect x="449.31" y="56.09" width="9.3" height="9.3" fill="#ffffff" stroke="#000000" stroke-width="1.0"/><rect x="452.50" y="64.72" width="9.3" height="9.3" fill="#ffffff" stroke="#000000" stroke-width="1.0"/><rect x="455.69" y="56.45" width="9.3" height="9.3" fill="#ffffff" stroke="#000000" stroke-width="1.0"/><rect x="458.88" y="65.08" width="9.3" height="9.3" fill="#ffffff" stroke="#000000" stroke-width="1.0"/><rect x="462.06" y="56.45" width="9.3" height="9.3" fill="#ffffff" stroke="#000000" stroke-width="1.0"/><rect x="465.25" y="60.76" width="9.3" height="9.3" fill="#ffffff" stroke="#000000" stroke-width="1.0"/><rect x="468.44" y="65.44" width="9.3" height="9.3" fill="#ffffff" stroke="#000000" stroke-width="1.0"/><rect x="471.63" y="59.68" width="9.3" height="9.3" fill="#ffffff" stroke="#000000" stroke-width="1.0"/><rect x="474.82" y="57.53" width="9.3" height="9.3" fill="#ffffff" stroke="#000000" stroke-width="1.0"/><rect x="478.01" y="68.32" width="9.3" height="9.3" fill="#ffffff" stroke="#000000" stroke-width="1.0"/><rect x="481.20" y="62.92" width="9.3" height="9.3" fill="#ffffff" stroke="#000000" stroke-width="1.0"/><rect x="484.39" y="54.29" width="9.3" height="9.3" fill="#ffffff" stroke="#000000" stroke-width="1.0"/><rect x="487.58" y="61.12" width="9.3" height="9.3" fill="#ffffff" stroke="#000000" stroke-width="1.0"/><rect x="490.77" y="67.96" width="9.3" height="9.3" fill="#ffffff" stroke="#000000" stroke-width="1.0"/><rect x="493.96" y="53.57" width="9.3" height="9.3" fill="#ffffff" stroke="#000000" stroke-width="1.0"/><rect x="497.15" y="62.20" width="9.3" height="9.3" fill="#ffffff" stroke="#000000" stroke-width="1.0"/><rect x="500.34" y="55.73" width="9.3" height="9.3" fill="#ffffff" stroke="#000000" stroke-width="1.0"/><rect x="503.53" y="66.52" width="9.3" height="9.3" fill="#ffffff" stroke="#000000" stroke-width="1.0"/><rect x="506.71" y="54.65" width="9.3" height="9.3" fill="#ffffff" stroke="#000000" stroke-width="1.0"/><rect x="509.90" y="62.92" width="9.3" height="9.3" fill="#ffffff" stroke="#000000" stroke-width="1.0"/><rect x="513.09" y="62.92" width="9.3" height="9.3" fill="#ffffff" stroke="#000000" stroke-width="1.0"/><rect x="516.28" y="54.65" width="9.3" height="9.3" fill="#ffffff" stroke="#000000" stroke-width="1.0"/><rect x="519.47" y="74.08" width="9.3" height="9.3" fill="#ffffff" stroke="#000000" stroke-width="1.0"/><rect x="522.66" y="61.48" width="9.3" height="9.3" fill="#ffffff" stroke="#000000" stroke-width="1.0"/><rect x="525.85" y="66.52" width="9.3" height="9.3" fill="#ffffff" stroke="#000000" stroke-width="1.0"/></g>
</g>
<rect x="84.0" y="17.2" width="446.5" height="359.8" fill="none" stroke="#000" stroke-width="1.7"/><line x1="77.0" y1="377.00" x2="84.0" y2="377.00" stroke="#000" stroke-width="1.7"/><text x="72.6" y="383.30" text-anchor="end" font-size="19.5" font-family="Liberation Sans, Arial, sans-serif" font-weight="bold">0</text><line x1="77.0" y1="341.02" x2="84.0" y2="341.02" stroke="#000" stroke-width="1.7"/><text x="72.6" y="347.32" text-anchor="end" font-size="19.5" font-family="Liberation Sans, Arial, sans-serif" font-weight="bold">10</text><line x1="77.0" y1="305.04" x2="84.0" y2="305.04" stroke="#000" stroke-width="1.7"/><text x="72.6" y="311.34" text-anchor="end" font-size="19.5" font-family="Liberation Sans, Arial, sans-serif" font-weight="bold">20</text><line x1="77.0" y1="269.06" x2="84.0" y2="269.06" stroke="#000" stroke-width="1.7"/><text x="72.6" y="275.36" text-anchor="end" font-size="19.5" font-family="Liberation Sans, Arial, sans-serif" font-weight="bold">30</text><line x1="77.0" y1="233.08" x2="84.0" y2="233.08" stroke="#000" stroke-width="1.7"/><text x="72.6" y="239.38" text-anchor="end" font-size="19.5" font-family="Liberation Sans, Arial, sans-serif" font-weight="bold">40</text><line x1="77.0" y1="197.10" x2="84.0" y2="197.10" stroke="#000" stroke-width="1.7"/><text x="72.6" y="203.40" text-anchor="end" font-size="19.5" font-family="Liberation Sans, Arial, sans-serif" font-weight="bold">50</text><line x1="77.0" y1="161.12" x2="84.0" y2="161.12" stroke="#000" stroke-width="1.7"/><text x="72.6" y="167.42" text-anchor="end" font-size="19.5" font-family="Liberation Sans, Arial, sans-serif" font-weight="bold">60</text><line x1="77.0" y1="125.14" x2="84.0" y2="125.14" stroke="#000" stroke-width="1.7"/><text x="72.6" y="131.44" text-anchor="end" font-size="19.5" font-family="Liberation Sans, Arial, sans-serif" font-weight="bold">70</text><line x1="77.0" y1="89.16" x2="84.0" y2="89.16" stroke="#000" stroke-width="1.7"/><text x="72.6" y="95.46" text-anchor="end" font-size="19.5" font-family="Liberation Sans, Arial, sans-serif" font-weight="bold">80</text><line x1="77.0" y1="53.18" x2="84.0" y2="53.18" stroke="#000" stroke-width="1.7"/><text x="72.6" y="59.48" text-anchor="end" font-size="19.5" font-family="Liberation Sans, Arial, sans-serif" font-weight="bold">90</text><line x1="77.0" y1="17.20" x2="84.0" y2="17.20" stroke="#000" stroke-width="1.7"/><text x="72.6" y="23.50" text-anchor="end" font-size="19.5" font-family="Liberation Sans, Arial, sans-serif" font-weight="bold">100</text><line x1="84.00" y1="377.0" x2="84.00" y2="384.0" stroke="#000" stroke-width="1.7"/><text x="84.80" y="403.9" text-anchor="middle" font-size="19.5" font-family="Liberation Sans, Arial, sans-serif" font-weight="bold">200</text><line x1="115.89" y1="377.0" x2="115.89" y2="380.5" stroke="#000" stroke-width="1.7"/><line x1="147.79" y1="377.0" x2="147.79" y2="384.0" stroke="#000" stroke-width="1.7"/><text x="148.59" y="403.9" text-anchor="middle" font-size="19.5" font-family="Liberation Sans, Arial, sans-serif" font-weight="bold">300</text><line x1="179.68" y1="377.0" x2="179.68" y2="380.5" stroke="#000" stroke-width="1.7"/><line x1="211.57" y1="377.0" x2="211.57" y2="384.0" stroke="#000" stroke-width="1.7"/><text x="212.37" y="403.9" text-anchor="middle" font-size="19.5" font-family="Liberation Sans, Arial, sans-serif" font-weight="bold">400</text><line x1="243.46" y1="377.0" x2="243.46" y2="380.5" stroke="#000" stroke-width="1.7"/><line x1="275.36" y1="377.0" x2="275.36" y2="384.0" stroke="#000" stroke-width="1.7"/><text x="276.16" y="403.9" text-anchor="middle" font-size="19.5" font-family="Liberation Sans, Arial, sans-serif" font-weight="bold">500</text><line x1="307.25" y1="377.0" x2="307.25" y2="380.5" stroke="#000" stroke-width="1.7"/><line x1="339.14" y1="377.0" x2="339.14" y2="384.0" stroke="#000" stroke-width="1.7"/><text x="339.94" y="403.9" text-anchor="middle" font-size="19.5" font-family="Liberation Sans, Arial, sans-serif" font-weight="bold">600</text><line x1="371.04" y1="377.0" x2="371.04" y2="380.5" stroke="#000" stroke-width="1.7"/><line x1="402.93" y1="377.0" x2="402.93" y2="384.0" stroke="#000" stroke-width="1.7"/><text x="403.73" y="403.9" text-anchor="middle" font-size="19.5" font-family="Liberation Sans, Arial, sans-serif" font-weight="bold">700</text><line x1="434.82" y1="377.0" x2="434.82" y2="380.5" stroke="#000" stroke-width="1.7"/><line x1="466.71" y1="377.0" x2="466.71" y2="384.0" stroke="#000" stroke-width="1.7"/><text x="467.51" y="403.9" text-anchor="middle" font-size="19.5" font-family="Liberation Sans, Arial, sans-serif" font-weight="bold">800</text><line x1="498.61" y1="377.0" x2="498.61" y2="380.5" stroke="#000" stroke-width="1.7"/><line x1="530.50" y1="377.0" x2="530.50" y2="384.0" stroke="#000" stroke-width="1.7"/><text x="531.30" y="403.9" text-anchor="middle" font-size="19.5" font-family="Liberation Sans, Arial, sans-serif" font-weight="bold">900</text><text x="308" y="438.6" text-anchor="middle" font-size="22.3" font-family="Liberation Sans, Arial, sans-serif" font-weight="bold">Wavelength (nm)</text><text transform="translate(29.2,198) rotate(-90)" text-anchor="middle" font-size="22.3" font-family="Liberation Sans, Arial, sans-serif" font-weight="bold">Transmittance (%)</text>
<line x1="248.8" y1="225.40" x2="286.8" y2="225.40" stroke="#000" stroke-width="1.3"/><rect x="263.15" y="220.75" width="9.3" height="9.3" fill="#fff" stroke="#000" stroke-width="1.0"/><text x="292" y="231.50" font-size="18.75" font-family="Liberation Sans, Arial, sans-serif" font-weight="bold">FLPI-1 (FDAn-FDAADA)</text><line x1="248.8" y1="248.90" x2="286.8" y2="248.90" stroke="#f00" stroke-width="1.3"/><circle cx="267.80" cy="248.90" r="5.2" fill="#fff" stroke="#f00" stroke-width="1.0"/><text x="292" y="255.00" font-size="18.75" font-family="Liberation Sans, Arial, sans-serif" font-weight="bold">FLPI-2 (FDAn-ABTFMB)</text><line x1="248.8" y1="272.40" x2="286.8" y2="272.40" stroke="#00f" stroke-width="1.3"/><polygon points="267.80,265.20 261.80,276.00 273.80,276.00" fill="#fff" stroke="#00f" stroke-width="1.0"/><text x="292" y="278.50" font-size="18.75" font-family="Liberation Sans, Arial, sans-serif" font-weight="bold">FLPI-3 (FDAn-MABTFMB)</text><line x1="248.8" y1="295.90" x2="286.8" y2="295.90" stroke="#000" stroke-width="1.3"/><rect x="263.15" y="291.25" width="9.3" height="9.3" fill="#000" stroke="#000" stroke-width="1.0"/><text x="292" y="302.00" font-size="18.75" font-family="Liberation Sans, Arial, sans-serif" font-weight="bold">PI-ref1 (6FDA-FDAADA)</text><line x1="248.8" y1="319.40" x2="286.8" y2="319.40" stroke="#f00" stroke-width="1.3"/><circle cx="267.80" cy="319.40" r="5.2" fill="#f00" stroke="#f00" stroke-width="1.0"/><text x="292" y="325.50" font-size="18.75" font-family="Liberation Sans, Arial, sans-serif" font-weight="bold">PI-ref2 (6FDA-ABTFMB)</text><line x1="248.8" y1="342.90" x2="286.8" y2="342.90" stroke="#00f" stroke-width="1.3"/><polygon points="267.80,335.70 261.80,346.50 273.80,346.50" fill="#00f" stroke="#00f" stroke-width="1.0"/><text x="292" y="349.00" font-size="18.75" font-family="Liberation Sans, Arial, sans-serif" font-weight="bold">PI-ref3 (6FDA-MABTFMB)</text>
</svg>
</body></html>
